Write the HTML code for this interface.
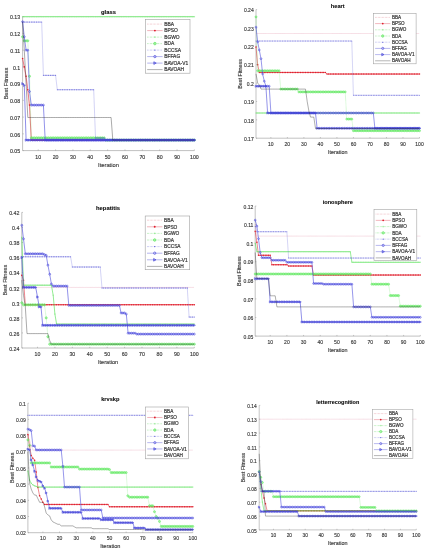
<!DOCTYPE html>
<html><head><meta charset="utf-8"><style>
html,body{margin:0;padding:0;background:#fff;}
svg{display:block;filter:blur(0.25px);}
text{font-family:"Liberation Sans", sans-serif;stroke:#383838;stroke-width:0.14px;}
</style></head><body>
<svg width="427" height="550" viewBox="0 0 427 550">
<defs>
<marker id="m0_BPSO" markerUnits="userSpaceOnUse" markerWidth="6" markerHeight="6" refX="0" refY="0" viewBox="-3 -3 6 6" overflow="visible"><circle cx="0.00" cy="0.00" r="0.80" fill="#e0202e"/></marker>
<marker id="m0_BGWO" markerUnits="userSpaceOnUse" markerWidth="6" markerHeight="6" refX="0" refY="0" viewBox="-3 -3 6 6" overflow="visible"><path d="M-0.75 0.00H0.75M0.00 -0.75V0.75" stroke="#5ae25a" stroke-opacity="0.6" stroke-width="0.40"/></marker>
<marker id="m0_BDA" markerUnits="userSpaceOnUse" markerWidth="6" markerHeight="6" refX="0" refY="0" viewBox="-3 -3 6 6" overflow="visible"><circle cx="0.00" cy="0.00" r="1.05" fill="#62e862" fill-opacity="0.45" stroke="#62e862" stroke-width="0.60"/></marker>
<marker id="m0_BCCSA" markerUnits="userSpaceOnUse" markerWidth="6" markerHeight="6" refX="0" refY="0" viewBox="-3 -3 6 6" overflow="visible"><circle cx="0.00" cy="0.00" r="0.50" fill="#3a3ad0" fill-opacity="0.85"/></marker>
<marker id="m0_BFFAG" markerUnits="userSpaceOnUse" markerWidth="6" markerHeight="6" refX="0" refY="0" viewBox="-3 -3 6 6" overflow="visible"><circle cx="0.00" cy="0.00" r="0.95" fill="none" stroke="#4a4adc" stroke-width="0.60"/></marker>
<marker id="m0_BAVOAV1" markerUnits="userSpaceOnUse" markerWidth="6" markerHeight="6" refX="0" refY="0" viewBox="-3 -3 6 6" overflow="visible"><path d="M-0.88 -1.10L1.10 0.00L-0.88 1.10Z" fill="#4242d8" fill-opacity="0.35" stroke="#4242d8" stroke-width="0.55"/></marker>
<marker id="m1_BPSO" markerUnits="userSpaceOnUse" markerWidth="6" markerHeight="6" refX="0" refY="0" viewBox="-3 -3 6 6" overflow="visible"><circle cx="0.00" cy="0.00" r="0.76" fill="#e0202e"/></marker>
<marker id="m1_BGWO" markerUnits="userSpaceOnUse" markerWidth="6" markerHeight="6" refX="0" refY="0" viewBox="-3 -3 6 6" overflow="visible"><path d="M-0.71 0.00H0.71M0.00 -0.71V0.71" stroke="#5ae25a" stroke-opacity="0.6" stroke-width="0.38"/></marker>
<marker id="m1_BDA" markerUnits="userSpaceOnUse" markerWidth="6" markerHeight="6" refX="0" refY="0" viewBox="-3 -3 6 6" overflow="visible"><circle cx="0.00" cy="0.00" r="1.00" fill="#62e862" fill-opacity="0.45" stroke="#62e862" stroke-width="0.57"/></marker>
<marker id="m1_BCCSA" markerUnits="userSpaceOnUse" markerWidth="6" markerHeight="6" refX="0" refY="0" viewBox="-3 -3 6 6" overflow="visible"><circle cx="0.00" cy="0.00" r="0.48" fill="#3a3ad0" fill-opacity="0.85"/></marker>
<marker id="m1_BFFAG" markerUnits="userSpaceOnUse" markerWidth="6" markerHeight="6" refX="0" refY="0" viewBox="-3 -3 6 6" overflow="visible"><circle cx="0.00" cy="0.00" r="0.91" fill="none" stroke="#4a4adc" stroke-width="0.57"/></marker>
<marker id="m1_BAVOAV1" markerUnits="userSpaceOnUse" markerWidth="6" markerHeight="6" refX="0" refY="0" viewBox="-3 -3 6 6" overflow="visible"><path d="M-0.84 -1.05L1.05 0.00L-0.84 1.05Z" fill="#4242d8" fill-opacity="0.35" stroke="#4242d8" stroke-width="0.52"/></marker>
<marker id="m2_BPSO" markerUnits="userSpaceOnUse" markerWidth="6" markerHeight="6" refX="0" refY="0" viewBox="-3 -3 6 6" overflow="visible"><circle cx="0.00" cy="0.00" r="0.80" fill="#e0202e"/></marker>
<marker id="m2_BGWO" markerUnits="userSpaceOnUse" markerWidth="6" markerHeight="6" refX="0" refY="0" viewBox="-3 -3 6 6" overflow="visible"><path d="M-0.75 0.00H0.75M0.00 -0.75V0.75" stroke="#5ae25a" stroke-opacity="0.6" stroke-width="0.40"/></marker>
<marker id="m2_BDA" markerUnits="userSpaceOnUse" markerWidth="6" markerHeight="6" refX="0" refY="0" viewBox="-3 -3 6 6" overflow="visible"><circle cx="0.00" cy="0.00" r="1.06" fill="#62e862" fill-opacity="0.45" stroke="#62e862" stroke-width="0.60"/></marker>
<marker id="m2_BCCSA" markerUnits="userSpaceOnUse" markerWidth="6" markerHeight="6" refX="0" refY="0" viewBox="-3 -3 6 6" overflow="visible"><circle cx="0.00" cy="0.00" r="0.50" fill="#3a3ad0" fill-opacity="0.85"/></marker>
<marker id="m2_BFFAG" markerUnits="userSpaceOnUse" markerWidth="6" markerHeight="6" refX="0" refY="0" viewBox="-3 -3 6 6" overflow="visible"><circle cx="0.00" cy="0.00" r="0.96" fill="none" stroke="#4a4adc" stroke-width="0.60"/></marker>
<marker id="m2_BAVOAV1" markerUnits="userSpaceOnUse" markerWidth="6" markerHeight="6" refX="0" refY="0" viewBox="-3 -3 6 6" overflow="visible"><path d="M-0.89 -1.11L1.11 0.00L-0.89 1.11Z" fill="#4242d8" fill-opacity="0.35" stroke="#4242d8" stroke-width="0.55"/></marker>
<marker id="m3_BPSO" markerUnits="userSpaceOnUse" markerWidth="6" markerHeight="6" refX="0" refY="0" viewBox="-3 -3 6 6" overflow="visible"><circle cx="0.00" cy="0.00" r="0.77" fill="#e0202e"/></marker>
<marker id="m3_BGWO" markerUnits="userSpaceOnUse" markerWidth="6" markerHeight="6" refX="0" refY="0" viewBox="-3 -3 6 6" overflow="visible"><path d="M-0.72 0.00H0.72M0.00 -0.72V0.72" stroke="#5ae25a" stroke-opacity="0.6" stroke-width="0.38"/></marker>
<marker id="m3_BDA" markerUnits="userSpaceOnUse" markerWidth="6" markerHeight="6" refX="0" refY="0" viewBox="-3 -3 6 6" overflow="visible"><circle cx="0.00" cy="0.00" r="1.01" fill="#62e862" fill-opacity="0.45" stroke="#62e862" stroke-width="0.58"/></marker>
<marker id="m3_BCCSA" markerUnits="userSpaceOnUse" markerWidth="6" markerHeight="6" refX="0" refY="0" viewBox="-3 -3 6 6" overflow="visible"><circle cx="0.00" cy="0.00" r="0.48" fill="#3a3ad0" fill-opacity="0.85"/></marker>
<marker id="m3_BFFAG" markerUnits="userSpaceOnUse" markerWidth="6" markerHeight="6" refX="0" refY="0" viewBox="-3 -3 6 6" overflow="visible"><circle cx="0.00" cy="0.00" r="0.91" fill="none" stroke="#4a4adc" stroke-width="0.58"/></marker>
<marker id="m3_BAVOAV1" markerUnits="userSpaceOnUse" markerWidth="6" markerHeight="6" refX="0" refY="0" viewBox="-3 -3 6 6" overflow="visible"><path d="M-0.85 -1.06L1.06 0.00L-0.85 1.06Z" fill="#4242d8" fill-opacity="0.35" stroke="#4242d8" stroke-width="0.53"/></marker>
<marker id="m4_BPSO" markerUnits="userSpaceOnUse" markerWidth="6" markerHeight="6" refX="0" refY="0" viewBox="-3 -3 6 6" overflow="visible"><circle cx="0.00" cy="0.00" r="0.77" fill="#e0202e"/></marker>
<marker id="m4_BGWO" markerUnits="userSpaceOnUse" markerWidth="6" markerHeight="6" refX="0" refY="0" viewBox="-3 -3 6 6" overflow="visible"><path d="M-0.72 0.00H0.72M0.00 -0.72V0.72" stroke="#5ae25a" stroke-opacity="0.6" stroke-width="0.38"/></marker>
<marker id="m4_BDA" markerUnits="userSpaceOnUse" markerWidth="6" markerHeight="6" refX="0" refY="0" viewBox="-3 -3 6 6" overflow="visible"><circle cx="0.00" cy="0.00" r="1.01" fill="#62e862" fill-opacity="0.45" stroke="#62e862" stroke-width="0.58"/></marker>
<marker id="m4_BCCSA" markerUnits="userSpaceOnUse" markerWidth="6" markerHeight="6" refX="0" refY="0" viewBox="-3 -3 6 6" overflow="visible"><circle cx="0.00" cy="0.00" r="0.48" fill="#3a3ad0" fill-opacity="0.85"/></marker>
<marker id="m4_BFFAG" markerUnits="userSpaceOnUse" markerWidth="6" markerHeight="6" refX="0" refY="0" viewBox="-3 -3 6 6" overflow="visible"><circle cx="0.00" cy="0.00" r="0.91" fill="none" stroke="#4a4adc" stroke-width="0.58"/></marker>
<marker id="m4_BAVOAV1" markerUnits="userSpaceOnUse" markerWidth="6" markerHeight="6" refX="0" refY="0" viewBox="-3 -3 6 6" overflow="visible"><path d="M-0.85 -1.06L1.06 0.00L-0.85 1.06Z" fill="#4242d8" fill-opacity="0.35" stroke="#4242d8" stroke-width="0.53"/></marker>
<marker id="m5_BPSO" markerUnits="userSpaceOnUse" markerWidth="6" markerHeight="6" refX="0" refY="0" viewBox="-3 -3 6 6" overflow="visible"><circle cx="0.00" cy="0.00" r="0.73" fill="#e0202e"/></marker>
<marker id="m5_BGWO" markerUnits="userSpaceOnUse" markerWidth="6" markerHeight="6" refX="0" refY="0" viewBox="-3 -3 6 6" overflow="visible"><path d="M-0.69 0.00H0.69M0.00 -0.69V0.69" stroke="#5ae25a" stroke-opacity="0.6" stroke-width="0.37"/></marker>
<marker id="m5_BDA" markerUnits="userSpaceOnUse" markerWidth="6" markerHeight="6" refX="0" refY="0" viewBox="-3 -3 6 6" overflow="visible"><circle cx="0.00" cy="0.00" r="0.96" fill="#62e862" fill-opacity="0.45" stroke="#62e862" stroke-width="0.55"/></marker>
<marker id="m5_BCCSA" markerUnits="userSpaceOnUse" markerWidth="6" markerHeight="6" refX="0" refY="0" viewBox="-3 -3 6 6" overflow="visible"><circle cx="0.00" cy="0.00" r="0.46" fill="#3a3ad0" fill-opacity="0.85"/></marker>
<marker id="m5_BFFAG" markerUnits="userSpaceOnUse" markerWidth="6" markerHeight="6" refX="0" refY="0" viewBox="-3 -3 6 6" overflow="visible"><circle cx="0.00" cy="0.00" r="0.87" fill="none" stroke="#4a4adc" stroke-width="0.55"/></marker>
<marker id="m5_BAVOAV1" markerUnits="userSpaceOnUse" markerWidth="6" markerHeight="6" refX="0" refY="0" viewBox="-3 -3 6 6" overflow="visible"><path d="M-0.81 -1.01L1.01 0.00L-0.81 1.01Z" fill="#4242d8" fill-opacity="0.35" stroke="#4242d8" stroke-width="0.50"/></marker>
</defs>
<rect width="427" height="550" fill="#fff"/>
<path d="M22.60 16.70V150.60H194.40" fill="none" stroke="#b0b0b0" stroke-width="0.80"/>
<path d="M38.22 150.60v-1.20M55.57 150.60v-1.20M72.93 150.60v-1.20M90.28 150.60v-1.20M107.63 150.60v-1.20M124.99 150.60v-1.20M142.34 150.60v-1.20M159.69 150.60v-1.20M177.05 150.60v-1.20M194.40 150.60v-1.20M22.60 150.60h1.20M22.60 133.86h1.20M22.60 117.12h1.20M22.60 100.39h1.20M22.60 83.65h1.20M22.60 66.91h1.20M22.60 50.18h1.20M22.60 33.44h1.20M22.60 16.70h1.20" stroke="#909090" stroke-width="0.50"/>
<text x="38.22" y="158.60" font-size="5.25" text-anchor="middle" fill="#383838">10</text>
<text x="55.57" y="158.60" font-size="5.25" text-anchor="middle" fill="#383838">20</text>
<text x="72.93" y="158.60" font-size="5.25" text-anchor="middle" fill="#383838">30</text>
<text x="90.28" y="158.60" font-size="5.25" text-anchor="middle" fill="#383838">40</text>
<text x="107.63" y="158.60" font-size="5.25" text-anchor="middle" fill="#383838">50</text>
<text x="124.99" y="158.60" font-size="5.25" text-anchor="middle" fill="#383838">60</text>
<text x="142.34" y="158.60" font-size="5.25" text-anchor="middle" fill="#383838">70</text>
<text x="159.69" y="158.60" font-size="5.25" text-anchor="middle" fill="#383838">80</text>
<text x="177.05" y="158.60" font-size="5.25" text-anchor="middle" fill="#383838">90</text>
<text x="194.40" y="158.60" font-size="5.25" text-anchor="middle" fill="#383838">100</text>
<text x="20.20" y="153.39" font-size="5.25" text-anchor="end" fill="#383838">0.05</text>
<text x="20.20" y="136.65" font-size="5.25" text-anchor="end" fill="#383838">0.06</text>
<text x="20.20" y="119.91" font-size="5.25" text-anchor="end" fill="#383838">0.07</text>
<text x="20.20" y="103.18" font-size="5.25" text-anchor="end" fill="#383838">0.08</text>
<text x="20.20" y="86.44" font-size="5.25" text-anchor="end" fill="#383838">0.09</text>
<text x="20.20" y="69.70" font-size="5.25" text-anchor="end" fill="#383838">0.1</text>
<text x="20.20" y="52.97" font-size="5.25" text-anchor="end" fill="#383838">0.11</text>
<text x="20.20" y="36.23" font-size="5.25" text-anchor="end" fill="#383838">0.12</text>
<text x="20.20" y="19.49" font-size="5.25" text-anchor="end" fill="#383838">0.13</text>
<text x="108.50" y="166.50" font-size="5.80" text-anchor="middle" fill="#383838">Iteration</text>
<text transform="translate(8.19 83.65) rotate(-90)" font-size="5.80" text-anchor="middle" fill="#383838">Best Fitness</text>
<text x="108.50" y="14.00" font-size="5.80" text-anchor="middle" font-weight="bold" fill="#000" style="stroke-width:0.12px">glass</text>
<path d="M22.6 60.2 24.3 70.3 26.1 80.3 27.8 92.0 29.5 108.8 31.3 140.1 33.0 140.1 34.7 140.1 36.5 140.1 38.2 140.1 40.0 140.1 41.7 140.1 43.4 140.1 45.2 140.1 46.9 140.1 48.6 140.1 50.4 140.1 52.1 140.1 53.8 140.1 55.6 140.1 57.3 140.1 59.0 140.1 60.8 140.1 62.5 140.1 64.2 140.1 66.0 140.1 67.7 140.1 69.5 140.1 71.2 140.1 72.9 140.1 74.7 140.1 76.4 140.1 78.1 140.1 79.9 140.1 81.6 140.1 83.3 140.1 85.1 140.1 86.8 140.1 88.5 140.1 90.3 140.1 92.0 140.1 93.7 140.1 95.5 140.1 97.2 140.1 99.0 140.1 100.7 140.1 102.4 140.1 104.2 140.1 105.9 140.1 107.6 140.1 109.4 140.1 111.1 140.1 112.8 140.1 114.6 140.1 116.3 140.1 118.0 140.1 119.8 140.1 121.5 140.1 123.3 140.1 125.0 140.1 126.7 140.1 128.5 140.1 130.2 140.1 131.9 140.1 133.7 140.1 135.4 140.1 137.1 140.1 138.9 140.1 140.6 140.1 142.3 140.1 144.1 140.1 145.8 140.1 147.5 140.1 149.3 140.1 151.0 140.1 152.8 140.1 154.5 140.1 156.2 140.1 158.0 140.1 159.7 140.1 161.4 140.1 163.2 140.1 164.9 140.1 166.6 140.1 168.4 140.1 170.1 140.1 171.8 140.1 173.6 140.1 175.3 140.1 177.0 140.1 178.8 140.1 180.5 140.1 182.3 140.1 184.0 140.1 185.7 140.1 187.5 140.1 189.2 140.1 190.9 140.1 192.7 140.1 194.4 140.1" fill="none" stroke="#e0849e" stroke-width="0.50" stroke-dasharray="0.5 0.45"/>
<path d="M22.6 58.5 24.3 66.9 26.1 76.3 27.8 89.7 29.5 105.1 31.3 140.1 33.0 140.1 34.7 140.1 36.5 140.1 38.2 140.1 40.0 140.1 41.7 140.1 43.4 140.1 45.2 140.1 46.9 140.1 48.6 140.1 50.4 140.1 52.1 140.1 53.8 140.1 55.6 140.1 57.3 140.1 59.0 140.1 60.8 140.1 62.5 140.1 64.2 140.1 66.0 140.1 67.7 140.1 69.5 140.1 71.2 140.1 72.9 140.1 74.7 140.1 76.4 140.1 78.1 140.1 79.9 140.1 81.6 140.1 83.3 140.1 85.1 140.1 86.8 140.1 88.5 140.1 90.3 140.1 92.0 140.1 93.7 140.1 95.5 140.1 97.2 140.1 99.0 140.1 100.7 140.1 102.4 140.1 104.2 140.1 105.9 140.1 107.6 140.1 109.4 140.1 111.1 140.1 112.8 140.1 114.6 140.1 116.3 140.1 118.0 140.1 119.8 140.1 121.5 140.1 123.3 140.1 125.0 140.1 126.7 140.1 128.5 140.1 130.2 140.1 131.9 140.1 133.7 140.1 135.4 140.1 137.1 140.1 138.9 140.1 140.6 140.1 142.3 140.1 144.1 140.1 145.8 140.1 147.5 140.1 149.3 140.1 151.0 140.1 152.8 140.1 154.5 140.1 156.2 140.1 158.0 140.1 159.7 140.1 161.4 140.1 163.2 140.1 164.9 140.1 166.6 140.1 168.4 140.1 170.1 140.1 171.8 140.1 173.6 140.1 175.3 140.1 177.0 140.1 178.8 140.1 180.5 140.1 182.3 140.1 184.0 140.1 185.7 140.1 187.5 140.1 189.2 140.1 190.9 140.1 192.7 140.1 194.4 140.1" fill="none" stroke="#e0202e" stroke-width="0.55" marker-start="url(#m0_BPSO)" marker-mid="url(#m0_BPSO)" marker-end="url(#m0_BPSO)"/>
<path d="M22.6 16.7 24.3 16.7 26.1 16.7 27.8 16.7 29.5 16.7 31.3 16.7 33.0 16.7 34.7 16.7 36.5 16.7 38.2 16.7 40.0 16.7 41.7 16.7 43.4 16.7 45.2 16.7 46.9 16.7 48.6 16.7 50.4 16.7 52.1 16.7 53.8 16.7 55.6 16.7 57.3 16.7 59.0 16.7 60.8 16.7 62.5 16.7 64.2 16.7 66.0 16.7 67.7 16.7 69.5 16.7 71.2 16.7 72.9 16.7 74.7 16.7 76.4 16.7 78.1 16.7 79.9 16.7 81.6 16.7 83.3 16.7 85.1 16.7 86.8 16.7 88.5 16.7 90.3 16.7 92.0 16.7 93.7 16.7 95.5 16.7 97.2 16.7 99.0 16.7 100.7 16.7 102.4 16.7 104.2 16.7 105.9 16.7 107.6 16.7 109.4 16.7 111.1 16.7 112.8 16.7 114.6 16.7 116.3 16.7 118.0 16.7 119.8 16.7 121.5 16.7 123.3 16.7 125.0 16.7 126.7 16.7 128.5 16.7 130.2 16.7 131.9 16.7 133.7 16.7 135.4 16.7 137.1 16.7 138.9 16.7 140.6 16.7 142.3 16.7 144.1 16.7 145.8 16.7 147.5 16.7 149.3 16.7 151.0 16.7 152.8 16.7 154.5 16.7 156.2 16.7 158.0 16.7 159.7 16.7 161.4 16.7 163.2 16.7 164.9 16.7 166.6 16.7 168.4 16.7 170.1 16.7 171.8 16.7 173.6 16.7 175.3 16.7 177.0 16.7 178.8 16.7 180.5 16.7 182.3 16.7 184.0 16.7 185.7 16.7 187.5 16.7 189.2 16.7 190.9 16.7 192.7 16.7 194.4 16.7" fill="none" stroke="#5ae25a" stroke-width="0.65" marker-start="url(#m0_BGWO)" marker-mid="url(#m0_BGWO)" marker-end="url(#m0_BGWO)"/>
<path d="M22.6 36.8 24.3 40.8 26.1 40.8 27.8 40.8 29.5 76.3 31.3 137.9 33.0 137.9 34.7 137.9 36.5 137.9 38.2 137.9 40.0 137.9 41.7 137.9 43.4 137.9 45.2 137.9 46.9 137.9 48.6 137.9 50.4 137.9 52.1 137.9 53.8 137.9 55.6 137.9 57.3 137.9 59.0 137.9 60.8 137.9 62.5 137.9 64.2 137.9 66.0 137.9 67.7 137.9 69.5 137.9 71.2 137.9 72.9 137.9 74.7 137.9 76.4 137.9 78.1 137.9 79.9 137.9 81.6 137.9 83.3 137.9 85.1 137.9 86.8 137.9 88.5 137.9 90.3 137.9 92.0 137.9 93.7 137.9 95.5 137.9 97.2 137.9 99.0 137.9 100.7 137.9 102.4 137.9 104.2 137.9 105.9 140.1 107.6 140.1 109.4 140.1 111.1 140.1 112.8 140.1 114.6 140.1 116.3 140.1 118.0 140.1 119.8 140.1 121.5 140.1 123.3 140.1 125.0 140.1 126.7 140.1 128.5 140.1 130.2 140.1 131.9 140.1 133.7 140.1 135.4 140.1 137.1 140.1 138.9 140.1 140.6 140.1 142.3 140.1 144.1 140.1 145.8 140.1 147.5 140.1 149.3 140.1 151.0 140.1 152.8 140.1 154.5 140.1 156.2 140.1 158.0 140.1 159.7 140.1 161.4 140.1 163.2 140.1 164.9 140.1 166.6 140.1 168.4 140.1 170.1 140.1 171.8 140.1 173.6 140.1 175.3 140.1 177.0 140.1 178.8 140.1 180.5 140.1 182.3 140.1 184.0 140.1 185.7 140.1 187.5 140.1 189.2 140.1 190.9 140.1 192.7 140.1 194.4 140.1" fill="none" stroke="#62e862" stroke-width="0.45" stroke-dasharray="0.55 0.55" marker-start="url(#m0_BDA)" marker-mid="url(#m0_BDA)" marker-end="url(#m0_BDA)"/>
<path d="M22.6 22.1 24.3 22.1 26.1 22.1 27.8 22.1 29.5 22.1 31.3 22.1 33.0 22.1 34.7 22.1 36.5 22.1 38.2 22.1 40.0 22.1 41.7 22.1 43.4 75.3 45.2 75.3 46.9 75.3 48.6 75.3 50.4 75.3 52.1 75.3 53.8 75.3 55.6 75.3 57.3 89.7 59.0 89.7 60.8 89.7 62.5 89.7 64.2 89.7 66.0 89.7 67.7 89.7 69.5 89.7 71.2 89.7 72.9 89.7 74.7 89.7 76.4 89.7 78.1 89.7 79.9 89.7 81.6 89.7 83.3 89.7 85.1 89.7 86.8 89.7 88.5 89.7 90.3 89.7 92.0 89.7 93.7 89.7 95.5 137.9 97.2 137.9 99.0 137.9 100.7 137.9 102.4 137.9 104.2 137.9 105.9 140.1 107.6 140.1 109.4 140.1 111.1 140.1 112.8 140.1 114.6 140.1 116.3 140.1 118.0 140.1 119.8 140.1 121.5 140.1 123.3 140.1 125.0 140.1 126.7 140.1 128.5 140.1 130.2 140.1 131.9 140.1 133.7 140.1 135.4 140.1 137.1 140.1 138.9 140.1 140.6 140.1 142.3 140.1 144.1 140.1 145.8 140.1 147.5 140.1 149.3 140.1 151.0 140.1 152.8 140.1 154.5 140.1 156.2 140.1 158.0 140.1 159.7 140.1 161.4 140.1 163.2 140.1 164.9 140.1 166.6 140.1 168.4 140.1 170.1 140.1 171.8 140.1 173.6 140.1 175.3 140.1 177.0 140.1 178.8 140.1 180.5 140.1 182.3 140.1 184.0 140.1 185.7 140.1 187.5 140.1 189.2 140.1 190.9 140.1 192.7 140.1 194.4 140.1" fill="none" stroke="#3a3ad0" stroke-width="0.50" stroke-dasharray="0.45 0.55" marker-start="url(#m0_BCCSA)" marker-mid="url(#m0_BCCSA)" marker-end="url(#m0_BCCSA)"/>
<path d="M22.6 21.7 24.3 36.8 26.1 50.2 27.8 50.2 29.5 91.5 31.3 105.1 33.0 105.1 34.7 105.1 36.5 105.1 38.2 105.1 40.0 105.1 41.7 105.1 43.4 105.1 45.2 140.1 46.9 140.1 48.6 140.1 50.4 140.1 52.1 140.1 53.8 140.1 55.6 140.1 57.3 140.1 59.0 140.1 60.8 140.1 62.5 140.1 64.2 140.1 66.0 140.1 67.7 140.1 69.5 140.1 71.2 140.1 72.9 140.1 74.7 140.1 76.4 140.1 78.1 140.1 79.9 140.1 81.6 140.1 83.3 140.1 85.1 140.1 86.8 140.1 88.5 140.1 90.3 140.1 92.0 140.1 93.7 140.1 95.5 140.1 97.2 140.1 99.0 140.1 100.7 140.1 102.4 140.1 104.2 140.1 105.9 140.1 107.6 140.1 109.4 140.1 111.1 140.1 112.8 140.1 114.6 140.1 116.3 140.1 118.0 140.1 119.8 140.1 121.5 140.1 123.3 140.1 125.0 140.1 126.7 140.1 128.5 140.1 130.2 140.1 131.9 140.1 133.7 140.1 135.4 140.1 137.1 140.1 138.9 140.1 140.6 140.1 142.3 140.1 144.1 140.1 145.8 140.1 147.5 140.1 149.3 140.1 151.0 140.1 152.8 140.1 154.5 140.1 156.2 140.1 158.0 140.1 159.7 140.1 161.4 140.1 163.2 140.1 164.9 140.1 166.6 140.1 168.4 140.1 170.1 140.1 171.8 140.1 173.6 140.1 175.3 140.1 177.0 140.1 178.8 140.1 180.5 140.1 182.3 140.1 184.0 140.1 185.7 140.1 187.5 140.1 189.2 140.1 190.9 140.1 192.7 140.1 194.4 140.1" fill="none" stroke="#4a4adc" stroke-width="0.60" marker-start="url(#m0_BFFAG)" marker-mid="url(#m0_BFFAG)" marker-end="url(#m0_BFFAG)"/>
<path d="M22.6 83.7 24.3 85.3 26.1 140.1 27.8 140.1 29.5 140.1 31.3 140.1 33.0 140.1 34.7 140.1 36.5 140.1 38.2 140.1 40.0 140.1 41.7 140.1 43.4 140.1 45.2 140.1 46.9 140.1 48.6 140.1 50.4 140.1 52.1 140.1 53.8 140.1 55.6 140.1 57.3 140.1 59.0 140.1 60.8 140.1 62.5 140.1 64.2 140.1 66.0 140.1 67.7 140.1 69.5 140.1 71.2 140.1 72.9 140.1 74.7 140.1 76.4 140.1 78.1 140.1 79.9 140.1 81.6 140.1 83.3 140.1 85.1 140.1 86.8 140.1 88.5 140.1 90.3 140.1 92.0 140.1 93.7 140.1 95.5 140.1 97.2 140.1 99.0 140.1 100.7 140.1 102.4 140.1 104.2 140.1 105.9 140.1 107.6 140.1 109.4 140.1 111.1 140.1 112.8 140.1 114.6 140.1 116.3 140.1 118.0 140.1 119.8 140.1 121.5 140.1 123.3 140.1 125.0 140.1 126.7 140.1 128.5 140.1 130.2 140.1 131.9 140.1 133.7 140.1 135.4 140.1 137.1 140.1 138.9 140.1 140.6 140.1 142.3 140.1 144.1 140.1 145.8 140.1 147.5 140.1 149.3 140.1 151.0 140.1 152.8 140.1 154.5 140.1 156.2 140.1 158.0 140.1 159.7 140.1 161.4 140.1 163.2 140.1 164.9 140.1 166.6 140.1 168.4 140.1 170.1 140.1 171.8 140.1 173.6 140.1 175.3 140.1 177.0 140.1 178.8 140.1 180.5 140.1 182.3 140.1 184.0 140.1 185.7 140.1 187.5 140.1 189.2 140.1 190.9 140.1 192.7 140.1 194.4 140.1" fill="none" stroke="#4242d8" stroke-width="0.60" marker-start="url(#m0_BAVOAV1)" marker-mid="url(#m0_BAVOAV1)" marker-end="url(#m0_BAVOAV1)"/>
<path d="M22.6 21.7 24.3 50.2 26.1 83.7 27.8 117.5 29.5 117.5 31.3 117.5 33.0 117.5 34.7 117.5 36.5 117.5 38.2 117.5 40.0 117.5 41.7 117.5 43.4 117.5 45.2 117.5 46.9 117.5 48.6 117.5 50.4 117.5 52.1 117.5 53.8 117.5 55.6 117.5 57.3 117.5 59.0 117.5 60.8 117.5 62.5 117.5 64.2 117.5 66.0 117.5 67.7 117.5 69.5 117.5 71.2 117.5 72.9 117.5 74.7 117.5 76.4 117.5 78.1 117.5 79.9 117.5 81.6 117.5 83.3 117.5 85.1 117.5 86.8 117.5 88.5 117.5 90.3 117.5 92.0 117.5 93.7 117.5 95.5 117.5 97.2 117.5 99.0 117.5 100.7 117.5 102.4 117.5 104.2 117.5 105.9 117.5 107.6 117.5 109.4 117.5 111.1 117.5 112.8 140.1 114.6 140.1 116.3 140.1 118.0 140.1 119.8 140.1 121.5 140.1 123.3 140.1 125.0 140.1 126.7 140.1 128.5 140.1 130.2 140.1 131.9 140.1 133.7 140.1 135.4 140.1 137.1 140.1 138.9 140.1 140.6 140.1 142.3 140.1 144.1 140.1 145.8 140.1 147.5 140.1 149.3 140.1 151.0 140.1 152.8 140.1 154.5 140.1 156.2 140.1 158.0 140.1 159.7 140.1 161.4 140.1 163.2 140.1 164.9 140.1 166.6 140.1 168.4 140.1 170.1 140.1 171.8 140.1 173.6 140.1 175.3 140.1 177.0 140.1 178.8 140.1 180.5 140.1 182.3 140.1 184.0 140.1 185.7 140.1 187.5 140.1 189.2 140.1 190.9 140.1 192.7 140.1 194.4 140.1" fill="none" stroke="#2a2a2a" stroke-width="0.40"/>
<rect x="145.40" y="19.30" width="44.60" height="53.90" fill="#fff" stroke="#a0a0a0" stroke-width="0.60"/>
<path d="M147.20 24.10H162.60" stroke="#e07a88" stroke-width="0.55" stroke-dasharray="0.6 0.8"/>
<text x="164.20" y="25.86" font-size="4.89" fill="#383838" style="stroke-width:0.2px">BBA</text>
<path d="M147.20 30.60H162.60" stroke="#e67482" stroke-width="0.55"/>
<circle cx="154.90" cy="30.60" r="0.96" fill="#e0202e"/>
<text x="164.20" y="32.36" font-size="4.89" fill="#383838" style="stroke-width:0.2px">BPSO</text>
<path d="M147.20 37.10H162.60" stroke="#5ad85a" stroke-width="0.55" stroke-dasharray="0.6 0.8"/>
<path d="M154.00 37.10H155.80M154.90 36.20V38.00" stroke="#5ae25a" stroke-opacity="0.6" stroke-width="0.48"/>
<text x="164.20" y="38.86" font-size="4.89" fill="#383838" style="stroke-width:0.2px">BGWO</text>
<path d="M147.20 43.60H162.60" stroke="#5ad85a" stroke-width="0.55" stroke-dasharray="0.6 0.8"/>
<circle cx="154.90" cy="43.60" r="1.26" fill="#62e862" fill-opacity="0.45" stroke="#62e862" stroke-width="0.72"/>
<text x="164.20" y="45.36" font-size="4.89" fill="#383838" style="stroke-width:0.2px">BDA</text>
<path d="M147.20 50.10H162.60" stroke="#7070dc" stroke-width="0.55" stroke-dasharray="0.6 0.8"/>
<circle cx="154.90" cy="50.10" r="0.60" fill="#3a3ad0" fill-opacity="0.85"/>
<text x="164.20" y="51.86" font-size="4.89" fill="#383838" style="stroke-width:0.2px">BCCSA</text>
<path d="M147.20 56.60H162.60" stroke="#7878e0" stroke-width="0.55"/>
<circle cx="154.90" cy="56.60" r="1.14" fill="none" stroke="#4a4adc" stroke-width="0.72"/>
<text x="164.20" y="58.36" font-size="4.89" fill="#383838" style="stroke-width:0.2px">BFFAG</text>
<path d="M147.20 63.10H162.60" stroke="#7878e0" stroke-width="0.55"/>
<path d="M153.84 61.78L156.22 63.10L153.84 64.42Z" fill="#4242d8" fill-opacity="0.35" stroke="#4242d8" stroke-width="0.66"/>
<text x="164.20" y="64.86" font-size="4.89" fill="#383838" style="stroke-width:0.2px">BAVOA-V1</text>
<path d="M147.20 69.60H162.60" stroke="#707070" stroke-width="0.55"/>
<text x="164.20" y="71.36" font-size="4.89" fill="#383838" style="stroke-width:0.2px">BAVOAH</text>
<path d="M256.00 9.60V138.20H419.50" fill="none" stroke="#b0b0b0" stroke-width="0.76"/>
<path d="M270.86 138.20v-1.14M287.38 138.20v-1.14M303.89 138.20v-1.14M320.41 138.20v-1.14M336.92 138.20v-1.14M353.44 138.20v-1.14M369.95 138.20v-1.14M386.47 138.20v-1.14M402.98 138.20v-1.14M419.50 138.20v-1.14M256.00 138.20h1.14M256.00 119.83h1.14M256.00 101.46h1.14M256.00 83.09h1.14M256.00 64.71h1.14M256.00 46.34h1.14M256.00 27.97h1.14M256.00 9.60h1.14" stroke="#909090" stroke-width="0.48"/>
<text x="270.86" y="146.20" font-size="5.04" text-anchor="middle" fill="#383838">10</text>
<text x="287.38" y="146.20" font-size="5.04" text-anchor="middle" fill="#383838">20</text>
<text x="303.89" y="146.20" font-size="5.04" text-anchor="middle" fill="#383838">30</text>
<text x="320.41" y="146.20" font-size="5.04" text-anchor="middle" fill="#383838">40</text>
<text x="336.92" y="146.20" font-size="5.04" text-anchor="middle" fill="#383838">50</text>
<text x="353.44" y="146.20" font-size="5.04" text-anchor="middle" fill="#383838">60</text>
<text x="369.95" y="146.20" font-size="5.04" text-anchor="middle" fill="#383838">70</text>
<text x="386.47" y="146.20" font-size="5.04" text-anchor="middle" fill="#383838">80</text>
<text x="402.98" y="146.20" font-size="5.04" text-anchor="middle" fill="#383838">90</text>
<text x="419.50" y="146.20" font-size="5.04" text-anchor="middle" fill="#383838">100</text>
<text x="253.70" y="140.91" font-size="5.04" text-anchor="end" fill="#383838">0.17</text>
<text x="253.70" y="122.54" font-size="5.04" text-anchor="end" fill="#383838">0.18</text>
<text x="253.70" y="104.17" font-size="5.04" text-anchor="end" fill="#383838">0.19</text>
<text x="253.70" y="85.80" font-size="5.04" text-anchor="end" fill="#383838">0.2</text>
<text x="253.70" y="67.43" font-size="5.04" text-anchor="end" fill="#383838">0.21</text>
<text x="253.70" y="49.06" font-size="5.04" text-anchor="end" fill="#383838">0.22</text>
<text x="253.70" y="30.69" font-size="5.04" text-anchor="end" fill="#383838">0.23</text>
<text x="253.70" y="12.31" font-size="5.04" text-anchor="end" fill="#383838">0.24</text>
<text x="337.75" y="153.70" font-size="5.40" text-anchor="middle" fill="#383838">Iteration</text>
<text transform="translate(241.84 73.90) rotate(-90)" font-size="5.40" text-anchor="middle" fill="#383838">Best Fitness</text>
<text x="337.75" y="7.70" font-size="5.65" text-anchor="middle" font-weight="bold" fill="#000" style="stroke-width:0.12px">heart</text>
<path d="M256.0 33.5 257.7 33.5 259.3 33.5 261.0 33.5 262.6 33.5 264.3 33.5 265.9 33.5 267.6 33.5 269.2 33.5 270.9 33.5 272.5 33.5 274.2 33.5 275.8 33.5 277.5 33.5 279.1 33.5 280.8 33.5 282.4 33.5 284.1 33.5 285.7 33.5 287.4 33.5 289.0 33.5 290.7 33.5 292.3 33.5 294.0 33.5 295.6 33.5 297.3 33.5 298.9 33.5 300.6 33.5 302.2 33.5 303.9 33.5 305.5 33.5 307.2 33.5 308.8 33.5 310.5 33.5 312.2 33.5 313.8 33.5 315.5 33.5 317.1 33.5 318.8 33.5 320.4 33.5 322.1 33.5 323.7 33.5 325.4 33.5 327.0 33.5 328.7 33.5 330.3 33.5 332.0 33.5 333.6 33.5 335.3 33.5 336.9 33.5 338.6 33.5 340.2 33.5 341.9 33.5 343.5 33.5 345.2 33.5 346.8 33.5 348.5 33.5 350.1 33.5 351.8 33.5 353.4 33.5 355.1 33.5 356.7 33.5 358.4 33.5 360.0 33.5 361.7 33.5 363.3 33.5 365.0 33.5 366.7 33.5 368.3 33.5 370.0 33.5 371.6 33.5 373.3 33.5 374.9 33.5 376.6 33.5 378.2 33.5 379.9 33.5 381.5 33.5 383.2 33.5 384.8 33.5 386.5 33.5 388.1 33.5 389.8 33.5 391.4 33.5 393.1 33.5 394.7 33.5 396.4 33.5 398.0 33.5 399.7 33.5 401.3 33.5 403.0 33.5 404.6 33.5 406.3 33.5 407.9 33.5 409.6 33.5 411.2 33.5 412.9 33.5 414.5 33.5 416.2 33.5 417.8 33.5 419.5 33.5" fill="none" stroke="#e0849e" stroke-width="0.48" stroke-dasharray="0.5 0.45"/>
<path d="M256.0 47.1 257.7 64.7 259.3 72.4 261.0 72.4 262.6 72.4 264.3 72.4 265.9 72.4 267.6 72.4 269.2 72.4 270.9 72.4 272.5 72.4 274.2 72.4 275.8 72.4 277.5 72.4 279.1 72.4 280.8 72.4 282.4 72.4 284.1 72.4 285.7 72.4 287.4 72.4 289.0 72.4 290.7 72.4 292.3 72.4 294.0 72.4 295.6 72.4 297.3 72.4 298.9 72.4 300.6 72.4 302.2 72.4 303.9 72.4 305.5 72.4 307.2 72.4 308.8 72.4 310.5 72.4 312.2 72.4 313.8 72.4 315.5 72.4 317.1 72.4 318.8 72.4 320.4 72.4 322.1 72.4 323.7 72.4 325.4 72.4 327.0 74.1 328.7 74.1 330.3 74.1 332.0 74.1 333.6 74.1 335.3 74.1 336.9 74.1 338.6 74.1 340.2 74.1 341.9 74.1 343.5 74.1 345.2 74.1 346.8 74.1 348.5 74.1 350.1 74.1 351.8 74.1 353.4 74.1 355.1 74.1 356.7 74.1 358.4 74.1 360.0 74.1 361.7 74.1 363.3 74.1 365.0 74.1 366.7 74.1 368.3 74.1 370.0 74.1 371.6 74.1 373.3 74.1 374.9 74.1 376.6 74.1 378.2 74.1 379.9 74.1 381.5 74.1 383.2 74.1 384.8 74.1 386.5 74.1 388.1 74.1 389.8 74.1 391.4 74.1 393.1 74.1 394.7 74.1 396.4 74.1 398.0 74.1 399.7 74.1 401.3 74.1 403.0 74.1 404.6 74.1 406.3 74.1 407.9 74.1 409.6 74.1 411.2 74.1 412.9 74.1 414.5 74.1 416.2 74.1 417.8 74.1 419.5 74.1" fill="none" stroke="#e0202e" stroke-width="0.52" marker-start="url(#m1_BPSO)" marker-mid="url(#m1_BPSO)" marker-end="url(#m1_BPSO)"/>
<path d="M256.0 113.0 257.7 113.0 259.3 113.0 261.0 113.0 262.6 113.0 264.3 113.0 265.9 113.0 267.6 113.0 269.2 113.0 270.9 113.0 272.5 113.0 274.2 113.0 275.8 113.0 277.5 113.0 279.1 113.0 280.8 113.0 282.4 113.0 284.1 113.0 285.7 113.0 287.4 113.0 289.0 113.0 290.7 113.0 292.3 113.0 294.0 113.0 295.6 113.0 297.3 113.0 298.9 113.0 300.6 113.0 302.2 113.0 303.9 113.0 305.5 113.0 307.2 113.0 308.8 113.0 310.5 113.0 312.2 113.0 313.8 113.0 315.5 113.0 317.1 113.0 318.8 113.0 320.4 113.0 322.1 113.0 323.7 113.0 325.4 113.0 327.0 113.0 328.7 113.0 330.3 113.0 332.0 113.0 333.6 113.0 335.3 113.0 336.9 113.0 338.6 113.0 340.2 113.0 341.9 113.0 343.5 113.0 345.2 113.0 346.8 113.0 348.5 113.0 350.1 113.0 351.8 113.0 353.4 113.0 355.1 113.0 356.7 113.0 358.4 113.0 360.0 113.0 361.7 113.0 363.3 113.0 365.0 113.0 366.7 113.0 368.3 113.0 370.0 113.0 371.6 113.0 373.3 113.0 374.9 113.0 376.6 113.0 378.2 113.0 379.9 113.0 381.5 113.0 383.2 113.0 384.8 113.0 386.5 113.0 388.1 113.0 389.8 113.0 391.4 113.0 393.1 113.0 394.7 113.0 396.4 113.0 398.0 113.0 399.7 113.0 401.3 113.0 403.0 113.0 404.6 113.0 406.3 113.0 407.9 113.0 409.6 113.0 411.2 113.0 412.9 113.0 414.5 113.0 416.2 113.0 417.8 113.0 419.5 113.0" fill="none" stroke="#5ae25a" stroke-width="0.62" marker-start="url(#m1_BGWO)" marker-mid="url(#m1_BGWO)" marker-end="url(#m1_BGWO)"/>
<path d="M256.0 16.9 257.7 70.8 259.3 70.8 261.0 70.8 262.6 70.8 264.3 70.8 265.9 70.8 267.6 70.8 269.2 70.8 270.9 70.8 272.5 70.8 274.2 70.8 275.8 70.8 277.5 70.8 279.1 70.8 280.8 89.1 282.4 89.1 284.1 89.1 285.7 89.1 287.4 89.1 289.0 89.1 290.7 89.1 292.3 89.1 294.0 89.1 295.6 89.1 297.3 89.1 298.9 91.9 300.6 91.9 302.2 91.9 303.9 91.9 305.5 91.9 307.2 91.9 308.8 91.9 310.5 91.9 312.2 91.9 313.8 91.9 315.5 91.9 317.1 91.9 318.8 91.9 320.4 91.9 322.1 91.9 323.7 91.9 325.4 91.9 327.0 91.9 328.7 91.9 330.3 91.9 332.0 91.9 333.6 91.9 335.3 91.9 336.9 91.9 338.6 91.9 340.2 91.9 341.9 91.9 343.5 91.9 345.2 91.9 346.8 119.1 348.5 119.1 350.1 119.1 351.8 119.1 353.4 130.7 355.1 130.7 356.7 130.7 358.4 130.7 360.0 130.7 361.7 130.7 363.3 130.7 365.0 130.7 366.7 130.7 368.3 130.7 370.0 130.7 371.6 130.7 373.3 130.7 374.9 130.7 376.6 130.7 378.2 130.7 379.9 130.7 381.5 130.7 383.2 130.7 384.8 130.7 386.5 130.7 388.1 130.7 389.8 130.7 391.4 130.7 393.1 130.7 394.7 130.7 396.4 130.7 398.0 130.7 399.7 130.7 401.3 130.7 403.0 130.7 404.6 130.7 406.3 130.7 407.9 130.7 409.6 130.7 411.2 130.7 412.9 130.7 414.5 130.7 416.2 130.7 417.8 130.7 419.5 130.7" fill="none" stroke="#62e862" stroke-width="0.43" stroke-dasharray="0.55 0.55" marker-start="url(#m1_BDA)" marker-mid="url(#m1_BDA)" marker-end="url(#m1_BDA)"/>
<path d="M256.0 41.0 257.7 41.0 259.3 41.0 261.0 41.0 262.6 41.0 264.3 41.0 265.9 41.0 267.6 41.0 269.2 41.0 270.9 41.0 272.5 41.0 274.2 41.0 275.8 41.0 277.5 41.0 279.1 41.0 280.8 41.0 282.4 41.0 284.1 41.0 285.7 41.0 287.4 41.0 289.0 41.0 290.7 41.0 292.3 41.0 294.0 41.0 295.6 41.0 297.3 41.0 298.9 41.0 300.6 41.0 302.2 41.0 303.9 41.0 305.5 41.0 307.2 41.0 308.8 41.0 310.5 41.0 312.2 41.0 313.8 41.0 315.5 41.0 317.1 41.0 318.8 41.0 320.4 41.0 322.1 41.0 323.7 41.0 325.4 41.0 327.0 41.0 328.7 41.0 330.3 41.0 332.0 41.0 333.6 41.0 335.3 41.0 336.9 41.0 338.6 41.0 340.2 41.0 341.9 41.0 343.5 41.0 345.2 41.0 346.8 41.0 348.5 41.0 350.1 41.0 351.8 41.0 353.4 95.2 355.1 95.2 356.7 95.2 358.4 95.2 360.0 95.2 361.7 95.2 363.3 95.2 365.0 95.2 366.7 95.2 368.3 95.2 370.0 95.2 371.6 95.2 373.3 95.2 374.9 95.2 376.6 95.2 378.2 95.2 379.9 95.2 381.5 95.2 383.2 95.2 384.8 95.2 386.5 95.2 388.1 95.2 389.8 95.2 391.4 95.2 393.1 95.2 394.7 95.2 396.4 95.2 398.0 95.2 399.7 95.2 401.3 95.2 403.0 95.2 404.6 95.2 406.3 95.2 407.9 95.2 409.6 95.2 411.2 95.2 412.9 95.2 414.5 95.2 416.2 95.2 417.8 95.2 419.5 95.2" fill="none" stroke="#3a3ad0" stroke-width="0.48" stroke-dasharray="0.45 0.55" marker-start="url(#m1_BCCSA)" marker-mid="url(#m1_BCCSA)" marker-end="url(#m1_BCCSA)"/>
<path d="M256.0 27.1 257.7 41.9 259.3 50.0 261.0 58.7 262.6 73.9 264.3 81.2 265.9 86.2 267.6 86.2 269.2 86.2 270.9 113.0 272.5 113.0 274.2 113.0 275.8 113.0 277.5 113.0 279.1 113.0 280.8 113.0 282.4 113.0 284.1 113.0 285.7 113.0 287.4 113.0 289.0 113.0 290.7 113.0 292.3 113.0 294.0 113.0 295.6 113.0 297.3 113.0 298.9 113.0 300.6 113.0 302.2 113.0 303.9 113.0 305.5 113.0 307.2 113.0 308.8 113.0 310.5 113.0 312.2 113.0 313.8 113.0 315.5 113.0 317.1 113.0 318.8 113.0 320.4 113.0 322.1 113.0 323.7 113.0 325.4 113.0 327.0 113.0 328.7 113.0 330.3 113.0 332.0 113.0 333.6 113.0 335.3 113.0 336.9 113.0 338.6 113.0 340.2 113.0 341.9 113.0 343.5 113.0 345.2 113.0 346.8 113.0 348.5 113.0 350.1 113.0 351.8 113.0 353.4 113.0 355.1 113.0 356.7 113.0 358.4 113.0 360.0 113.0 361.7 113.0 363.3 113.0 365.0 113.0 366.7 113.0 368.3 113.0 370.0 113.0 371.6 113.0 373.3 113.0 374.9 128.3 376.6 128.3 378.2 128.3 379.9 128.3 381.5 128.3 383.2 128.3 384.8 128.3 386.5 128.3 388.1 128.3 389.8 128.3 391.4 128.3 393.1 128.3 394.7 128.3 396.4 128.3 398.0 128.3 399.7 128.3 401.3 128.3 403.0 128.3 404.6 128.3 406.3 128.3 407.9 128.3 409.6 128.3 411.2 128.3 412.9 128.3 414.5 128.3 416.2 128.3 417.8 128.3 419.5 128.3" fill="none" stroke="#4a4adc" stroke-width="0.57" marker-start="url(#m1_BFFAG)" marker-mid="url(#m1_BFFAG)" marker-end="url(#m1_BFFAG)"/>
<path d="M256.0 86.2 257.7 86.2 259.3 86.2 261.0 86.2 262.6 86.2 264.3 86.2 265.9 86.2 267.6 113.0 269.2 113.0 270.9 113.0 272.5 113.0 274.2 113.0 275.8 113.0 277.5 113.0 279.1 113.0 280.8 113.0 282.4 113.0 284.1 113.0 285.7 113.0 287.4 113.0 289.0 113.0 290.7 113.0 292.3 113.0 294.0 113.0 295.6 113.0 297.3 113.0 298.9 113.0 300.6 113.0 302.2 113.0 303.9 113.0 305.5 113.0 307.2 113.0 308.8 113.0 310.5 113.0 312.2 113.0 313.8 113.0 315.5 113.0 317.1 128.3 318.8 128.3 320.4 128.3 322.1 128.3 323.7 128.3 325.4 128.3 327.0 128.3 328.7 128.3 330.3 128.3 332.0 128.3 333.6 128.3 335.3 128.3 336.9 128.3 338.6 128.3 340.2 128.3 341.9 128.3 343.5 128.3 345.2 128.3 346.8 128.3 348.5 128.3 350.1 128.3 351.8 128.3 353.4 128.3 355.1 128.3 356.7 128.3 358.4 128.3 360.0 128.3 361.7 128.3 363.3 128.3 365.0 128.3 366.7 128.3 368.3 128.3 370.0 128.3 371.6 128.3 373.3 128.3 374.9 128.3 376.6 128.3 378.2 128.3 379.9 128.3 381.5 128.3 383.2 128.3 384.8 128.3 386.5 128.3 388.1 128.3 389.8 128.3 391.4 128.3 393.1 128.3 394.7 128.3 396.4 128.3 398.0 128.3 399.7 128.3 401.3 128.3 403.0 128.3 404.6 128.3 406.3 128.3 407.9 128.3 409.6 128.3 411.2 128.3 412.9 128.3 414.5 128.3 416.2 128.3 417.8 128.3 419.5 128.3" fill="none" stroke="#4242d8" stroke-width="0.57" marker-start="url(#m1_BAVOAV1)" marker-mid="url(#m1_BAVOAV1)" marker-end="url(#m1_BAVOAV1)"/>
<path d="M256.0 73.9 257.7 83.1 259.3 84.9 261.0 89.1 262.6 89.1 264.3 89.1 265.9 89.1 267.6 89.1 269.2 89.1 270.9 89.1 272.5 89.1 274.2 89.1 275.8 89.1 277.5 89.1 279.1 89.1 280.8 89.1 282.4 89.1 284.1 89.1 285.7 89.1 287.4 89.1 289.0 89.1 290.7 89.1 292.3 89.1 294.0 89.1 295.6 89.1 297.3 89.1 298.9 89.1 300.6 89.1 302.2 89.1 303.9 89.1 305.5 89.1 307.2 101.5 308.8 110.6 310.5 117.1 312.2 117.1 313.8 117.1 315.5 128.5 317.1 128.5 318.8 128.5 320.4 128.5 322.1 128.5 323.7 128.5 325.4 128.5 327.0 128.5 328.7 128.5 330.3 128.5 332.0 128.5 333.6 128.5 335.3 128.5 336.9 128.5 338.6 128.5 340.2 128.5 341.9 128.5 343.5 128.5 345.2 128.5 346.8 128.5 348.5 128.5 350.1 128.5 351.8 128.5 353.4 128.5 355.1 128.5 356.7 128.5 358.4 128.5 360.0 128.5 361.7 128.5 363.3 128.5 365.0 128.5 366.7 128.5 368.3 128.5 370.0 128.5 371.6 128.5 373.3 128.5 374.9 128.5 376.6 128.5 378.2 128.5 379.9 128.5 381.5 128.5 383.2 128.5 384.8 128.5 386.5 128.5 388.1 128.5 389.8 128.5 391.4 128.5 393.1 128.5 394.7 128.5 396.4 128.5 398.0 128.5 399.7 128.5 401.3 128.5 403.0 128.5 404.6 128.5 406.3 128.5 407.9 128.5 409.6 128.5 411.2 128.5 412.9 128.5 414.5 128.5 416.2 128.5 417.8 128.5 419.5 128.5" fill="none" stroke="#2a2a2a" stroke-width="0.38"/>
<rect x="373.40" y="13.30" width="42.70" height="50.50" fill="#fff" stroke="#a0a0a0" stroke-width="0.57"/>
<path d="M375.12 17.40H390.38" stroke="#e07a88" stroke-width="0.52" stroke-dasharray="0.6 0.8"/>
<text x="391.90" y="19.05" font-size="4.58" fill="#383838" style="stroke-width:0.2px">BBA</text>
<path d="M375.12 23.60H390.38" stroke="#e67482" stroke-width="0.52"/>
<circle cx="382.75" cy="23.60" r="0.91" fill="#e0202e"/>
<text x="391.90" y="25.25" font-size="4.58" fill="#383838" style="stroke-width:0.2px">BPSO</text>
<path d="M375.12 29.80H390.38" stroke="#5ad85a" stroke-width="0.52" stroke-dasharray="0.6 0.8"/>
<path d="M381.89 29.80H383.60M382.75 28.94V30.66" stroke="#5ae25a" stroke-opacity="0.6" stroke-width="0.46"/>
<text x="391.90" y="31.45" font-size="4.58" fill="#383838" style="stroke-width:0.2px">BGWO</text>
<path d="M375.12 36.00H390.38" stroke="#5ad85a" stroke-width="0.52" stroke-dasharray="0.6 0.8"/>
<circle cx="382.75" cy="36.00" r="1.20" fill="#62e862" fill-opacity="0.45" stroke="#62e862" stroke-width="0.69"/>
<text x="391.90" y="37.65" font-size="4.58" fill="#383838" style="stroke-width:0.2px">BDA</text>
<path d="M375.12 42.20H390.38" stroke="#7070dc" stroke-width="0.52" stroke-dasharray="0.6 0.8"/>
<circle cx="382.75" cy="42.20" r="0.57" fill="#3a3ad0" fill-opacity="0.85"/>
<text x="391.90" y="43.85" font-size="4.58" fill="#383838" style="stroke-width:0.2px">BCCSA</text>
<path d="M375.12 48.40H390.38" stroke="#7878e0" stroke-width="0.52"/>
<circle cx="382.75" cy="48.40" r="1.09" fill="none" stroke="#4a4adc" stroke-width="0.69"/>
<text x="391.90" y="50.05" font-size="4.58" fill="#383838" style="stroke-width:0.2px">BFFAG</text>
<path d="M375.12 54.60H390.38" stroke="#7878e0" stroke-width="0.52"/>
<path d="M381.74 53.34L384.00 54.60L381.74 55.86Z" fill="#4242d8" fill-opacity="0.35" stroke="#4242d8" stroke-width="0.63"/>
<text x="391.90" y="56.25" font-size="4.58" fill="#383838" style="stroke-width:0.2px">BAVOA-V1</text>
<path d="M375.12 60.80H390.38" stroke="#707070" stroke-width="0.52"/>
<text x="391.90" y="62.45" font-size="4.58" fill="#383838" style="stroke-width:0.2px">BAVOAH</text>
<path d="M21.80 212.40V348.00H194.30" fill="none" stroke="#b0b0b0" stroke-width="0.80"/>
<path d="M37.48 348.00v-1.21M54.91 348.00v-1.21M72.33 348.00v-1.21M89.75 348.00v-1.21M107.18 348.00v-1.21M124.60 348.00v-1.21M142.03 348.00v-1.21M159.45 348.00v-1.21M176.88 348.00v-1.21M194.30 348.00v-1.21M21.80 348.00h1.21M21.80 332.93h1.21M21.80 317.87h1.21M21.80 302.80h1.21M21.80 287.73h1.21M21.80 272.67h1.21M21.80 257.60h1.21M21.80 242.53h1.21M21.80 227.47h1.21M21.80 212.40h1.21" stroke="#909090" stroke-width="0.50"/>
<text x="37.48" y="356.00" font-size="5.25" text-anchor="middle" fill="#383838">10</text>
<text x="54.91" y="356.00" font-size="5.25" text-anchor="middle" fill="#383838">20</text>
<text x="72.33" y="356.00" font-size="5.25" text-anchor="middle" fill="#383838">30</text>
<text x="89.75" y="356.00" font-size="5.25" text-anchor="middle" fill="#383838">40</text>
<text x="107.18" y="356.00" font-size="5.25" text-anchor="middle" fill="#383838">50</text>
<text x="124.60" y="356.00" font-size="5.25" text-anchor="middle" fill="#383838">60</text>
<text x="142.03" y="356.00" font-size="5.25" text-anchor="middle" fill="#383838">70</text>
<text x="159.45" y="356.00" font-size="5.25" text-anchor="middle" fill="#383838">80</text>
<text x="176.88" y="356.00" font-size="5.25" text-anchor="middle" fill="#383838">90</text>
<text x="194.30" y="356.00" font-size="5.25" text-anchor="middle" fill="#383838">100</text>
<text x="19.35" y="350.79" font-size="5.25" text-anchor="end" fill="#383838">0.24</text>
<text x="19.35" y="335.72" font-size="5.25" text-anchor="end" fill="#383838">0.26</text>
<text x="19.35" y="320.66" font-size="5.25" text-anchor="end" fill="#383838">0.28</text>
<text x="19.35" y="305.59" font-size="5.25" text-anchor="end" fill="#383838">0.3</text>
<text x="19.35" y="290.52" font-size="5.25" text-anchor="end" fill="#383838">0.32</text>
<text x="19.35" y="275.46" font-size="5.25" text-anchor="end" fill="#383838">0.34</text>
<text x="19.35" y="260.39" font-size="5.25" text-anchor="end" fill="#383838">0.36</text>
<text x="19.35" y="245.32" font-size="5.25" text-anchor="end" fill="#383838">0.38</text>
<text x="19.35" y="230.26" font-size="5.25" text-anchor="end" fill="#383838">0.4</text>
<text x="19.35" y="215.19" font-size="5.25" text-anchor="end" fill="#383838">0.42</text>
<text x="108.05" y="363.50" font-size="5.60" text-anchor="middle" fill="#383838">Iteration</text>
<text transform="translate(6.62 280.20) rotate(-90)" font-size="5.60" text-anchor="middle" fill="#383838">Best Fitness</text>
<text x="108.05" y="210.20" font-size="5.85" text-anchor="middle" font-weight="bold" fill="#000" style="stroke-width:0.12px">hepatitis</text>
<path d="M21.8 274.2 23.5 287.4 25.3 287.4 27.0 287.4 28.8 287.4 30.5 287.4 32.3 287.4 34.0 287.4 35.7 287.4 37.5 287.4 39.2 287.4 41.0 287.4 42.7 287.4 44.5 287.4 46.2 287.4 47.9 287.4 49.7 287.4 51.4 287.4 53.2 287.4 54.9 287.4 56.6 287.4 58.4 287.4 60.1 287.4 61.9 287.4 63.6 287.4 65.4 287.4 67.1 287.4 68.8 287.4 70.6 287.4 72.3 287.4 74.1 287.4 75.8 287.4 77.6 287.4 79.3 287.4 81.0 287.4 82.8 287.4 84.5 287.4 86.3 287.4 88.0 287.4 89.8 287.4 91.5 287.4 93.2 287.4 95.0 287.4 96.7 287.4 98.5 287.4 100.2 287.4 102.0 287.4 103.7 287.4 105.4 287.4 107.2 287.4 108.9 287.4 110.7 287.4 112.4 287.4 114.1 287.4 115.9 287.4 117.6 287.4 119.4 287.4 121.1 287.4 122.9 287.4 124.6 287.4 126.3 287.4 128.1 287.4 129.8 287.4 131.6 287.4 133.3 287.4 135.1 287.4 136.8 287.4 138.5 287.4 140.3 287.4 142.0 287.4 143.8 287.4 145.5 287.4 147.3 287.4 149.0 287.4 150.7 287.4 152.5 287.4 154.2 287.4 156.0 287.4 157.7 287.4 159.5 287.4 161.2 287.4 162.9 287.4 164.7 287.4 166.4 287.4 168.2 287.4 169.9 287.4 171.6 287.4 173.4 287.4 175.1 287.4 176.9 287.4 178.6 287.4 180.4 287.4 182.1 287.4 183.8 287.4 185.6 287.4 187.3 287.4 189.1 287.4 190.8 287.4 192.6 287.4 194.3 287.4" fill="none" stroke="#e0849e" stroke-width="0.50" stroke-dasharray="0.5 0.45"/>
<path d="M21.8 275.2 23.5 280.2 25.3 304.7 27.0 304.7 28.8 304.7 30.5 304.7 32.3 304.7 34.0 304.7 35.7 304.7 37.5 304.7 39.2 304.7 41.0 304.7 42.7 304.7 44.5 304.7 46.2 304.7 47.9 304.7 49.7 304.7 51.4 304.7 53.2 304.7 54.9 304.7 56.6 304.7 58.4 304.7 60.1 304.7 61.9 304.7 63.6 304.7 65.4 304.7 67.1 304.7 68.8 304.7 70.6 304.7 72.3 304.7 74.1 304.7 75.8 304.7 77.6 304.7 79.3 304.7 81.0 304.7 82.8 304.7 84.5 304.7 86.3 304.7 88.0 304.7 89.8 304.7 91.5 304.7 93.2 304.7 95.0 304.7 96.7 304.7 98.5 304.7 100.2 304.7 102.0 304.7 103.7 304.7 105.4 304.7 107.2 304.7 108.9 304.7 110.7 304.7 112.4 304.7 114.1 304.7 115.9 304.7 117.6 304.7 119.4 304.7 121.1 304.7 122.9 304.7 124.6 304.7 126.3 304.7 128.1 304.7 129.8 304.7 131.6 304.7 133.3 304.7 135.1 304.7 136.8 304.7 138.5 304.7 140.3 304.7 142.0 304.7 143.8 304.7 145.5 304.7 147.3 304.7 149.0 304.7 150.7 304.7 152.5 304.7 154.2 304.7 156.0 304.7 157.7 304.7 159.5 304.7 161.2 304.7 162.9 304.7 164.7 304.7 166.4 304.7 168.2 304.7 169.9 304.7 171.6 304.7 173.4 304.7 175.1 304.7 176.9 304.7 178.6 304.7 180.4 304.7 182.1 304.7 183.8 304.7 185.6 304.7 187.3 304.7 189.1 304.7 190.8 304.7 192.6 304.7 194.3 304.7" fill="none" stroke="#e0202e" stroke-width="0.55" marker-start="url(#m2_BPSO)" marker-mid="url(#m2_BPSO)" marker-end="url(#m2_BPSO)"/>
<path d="M21.8 237.3 23.5 285.2 25.3 285.2 27.0 285.2 28.8 285.2 30.5 285.2 32.3 285.2 34.0 285.2 35.7 285.2 37.5 285.2 39.2 285.2 41.0 285.2 42.7 285.2 44.5 285.2 46.2 285.2 47.9 285.2 49.7 285.2 51.4 285.2 53.2 295.3 54.9 314.1 56.6 324.1 58.4 324.1 60.1 324.1 61.9 324.1 63.6 324.1 65.4 324.1 67.1 324.1 68.8 324.1 70.6 324.1 72.3 324.1 74.1 324.1 75.8 324.1 77.6 324.1 79.3 324.1 81.0 324.1 82.8 324.1 84.5 324.1 86.3 324.1 88.0 324.1 89.8 324.1 91.5 324.1 93.2 324.1 95.0 324.1 96.7 324.1 98.5 324.1 100.2 324.1 102.0 324.1 103.7 324.1 105.4 324.1 107.2 324.1 108.9 324.1 110.7 324.1 112.4 324.1 114.1 324.1 115.9 324.1 117.6 324.1 119.4 324.1 121.1 324.1 122.9 324.1 124.6 324.1 126.3 324.1 128.1 324.1 129.8 324.1 131.6 324.1 133.3 324.1 135.1 324.1 136.8 324.1 138.5 324.1 140.3 324.1 142.0 324.1 143.8 324.1 145.5 324.1 147.3 324.1 149.0 324.1 150.7 324.1 152.5 324.1 154.2 324.1 156.0 324.1 157.7 324.1 159.5 324.1 161.2 324.1 162.9 324.1 164.7 324.1 166.4 324.1 168.2 324.1 169.9 324.1 171.6 324.1 173.4 324.1 175.1 324.1 176.9 324.1 178.6 324.1 180.4 324.1 182.1 324.1 183.8 324.1 185.6 324.1 187.3 324.1 189.1 324.1 190.8 324.1 192.6 324.1 194.3 324.1" fill="none" stroke="#5ae25a" stroke-width="0.65" marker-start="url(#m2_BGWO)" marker-mid="url(#m2_BGWO)" marker-end="url(#m2_BGWO)"/>
<path d="M21.8 302.8 23.5 304.8 25.3 304.8 27.0 304.8 28.8 304.8 30.5 304.8 32.3 304.8 34.0 304.8 35.7 304.8 37.5 304.8 39.2 304.8 41.0 304.8 42.7 304.8 44.5 304.8 46.2 317.9 47.9 336.7 49.7 344.2 51.4 344.2 53.2 344.2 54.9 344.2 56.6 344.2 58.4 344.2 60.1 344.2 61.9 344.2 63.6 344.2 65.4 344.2 67.1 344.2 68.8 344.2 70.6 344.2 72.3 344.2 74.1 344.2 75.8 344.2 77.6 344.2 79.3 344.2 81.0 344.2 82.8 344.2 84.5 344.2 86.3 344.2 88.0 344.2 89.8 344.2 91.5 344.2 93.2 344.2 95.0 344.2 96.7 344.2 98.5 344.2 100.2 344.2 102.0 344.2 103.7 344.2 105.4 344.2 107.2 344.2 108.9 344.2 110.7 344.2 112.4 344.2 114.1 344.2 115.9 344.2 117.6 344.2 119.4 344.2 121.1 344.2 122.9 344.2 124.6 344.2 126.3 344.2 128.1 344.2 129.8 344.2 131.6 344.2 133.3 344.2 135.1 344.2 136.8 344.2 138.5 344.2 140.3 344.2 142.0 344.2 143.8 344.2 145.5 344.2 147.3 344.2 149.0 344.2 150.7 344.2 152.5 344.2 154.2 344.2 156.0 344.2 157.7 344.2 159.5 344.2 161.2 344.2 162.9 344.2 164.7 344.2 166.4 344.2 168.2 344.2 169.9 344.2 171.6 344.2 173.4 344.2 175.1 344.2 176.9 344.2 178.6 344.2 180.4 344.2 182.1 344.2 183.8 344.2 185.6 344.2 187.3 344.2 189.1 344.2 190.8 344.2 192.6 344.2 194.3 344.2" fill="none" stroke="#62e862" stroke-width="0.45" stroke-dasharray="0.55 0.55" marker-start="url(#m2_BDA)" marker-mid="url(#m2_BDA)" marker-end="url(#m2_BDA)"/>
<path d="M21.8 256.8 23.5 256.8 25.3 256.8 27.0 256.8 28.8 256.8 30.5 256.8 32.3 256.8 34.0 256.8 35.7 256.8 37.5 256.8 39.2 256.8 41.0 256.8 42.7 256.8 44.5 256.8 46.2 256.8 47.9 256.8 49.7 256.8 51.4 256.8 53.2 256.8 54.9 256.8 56.6 256.8 58.4 256.8 60.1 256.8 61.9 256.8 63.6 256.8 65.4 256.8 67.1 256.8 68.8 256.8 70.6 256.8 72.3 266.9 74.1 266.9 75.8 266.9 77.6 266.9 79.3 266.9 81.0 266.9 82.8 266.9 84.5 266.9 86.3 266.9 88.0 266.9 89.8 266.9 91.5 266.9 93.2 266.9 95.0 266.9 96.7 266.9 98.5 266.9 100.2 266.9 102.0 287.9 103.7 287.9 105.4 287.9 107.2 287.9 108.9 287.9 110.7 287.9 112.4 287.9 114.1 287.9 115.9 287.9 117.6 287.9 119.4 287.9 121.1 287.9 122.9 287.9 124.6 287.9 126.3 287.9 128.1 287.9 129.8 287.9 131.6 287.9 133.3 287.9 135.1 287.9 136.8 287.9 138.5 287.9 140.3 287.9 142.0 287.9 143.8 287.9 145.5 287.9 147.3 287.9 149.0 287.9 150.7 287.9 152.5 287.9 154.2 287.9 156.0 287.9 157.7 287.9 159.5 287.9 161.2 287.9 162.9 287.9 164.7 287.9 166.4 287.9 168.2 287.9 169.9 287.9 171.6 287.9 173.4 287.9 175.1 287.9 176.9 287.9 178.6 287.9 180.4 287.9 182.1 287.9 183.8 287.9 185.6 287.9 187.3 287.9 189.1 317.1 190.8 317.1 192.6 317.1 194.3 317.1" fill="none" stroke="#3a3ad0" stroke-width="0.50" stroke-dasharray="0.45 0.55" marker-start="url(#m2_BCCSA)" marker-mid="url(#m2_BCCSA)" marker-end="url(#m2_BCCSA)"/>
<path d="M21.8 225.2 23.5 238.8 25.3 253.8 27.0 253.8 28.8 253.8 30.5 253.8 32.3 253.8 34.0 253.8 35.7 253.8 37.5 253.8 39.2 253.8 41.0 253.8 42.7 253.8 44.5 254.6 46.2 255.3 47.9 265.1 49.7 274.2 51.4 284.0 53.2 286.1 54.9 286.1 56.6 286.1 58.4 286.1 60.1 286.1 61.9 286.1 63.6 286.1 65.4 286.1 67.1 286.1 68.8 305.4 70.6 305.4 72.3 305.4 74.1 305.4 75.8 305.4 77.6 305.4 79.3 305.4 81.0 305.4 82.8 305.4 84.5 305.4 86.3 305.4 88.0 305.4 89.8 305.4 91.5 305.4 93.2 305.4 95.0 305.4 96.7 305.4 98.5 305.4 100.2 305.4 102.0 305.4 103.7 305.4 105.4 305.4 107.2 305.4 108.9 305.4 110.7 305.4 112.4 305.4 114.1 305.4 115.9 305.4 117.6 305.4 119.4 305.4 121.1 313.0 122.9 313.0 124.6 313.0 126.3 314.1 128.1 333.2 129.8 333.2 131.6 333.2 133.3 333.2 135.1 333.2 136.8 334.1 138.5 334.1 140.3 334.1 142.0 334.1 143.8 334.1 145.5 334.1 147.3 334.1 149.0 334.1 150.7 334.1 152.5 334.1 154.2 334.1 156.0 334.1 157.7 334.1 159.5 334.1 161.2 334.1 162.9 334.1 164.7 334.1 166.4 334.1 168.2 334.1 169.9 334.1 171.6 334.1 173.4 334.1 175.1 334.1 176.9 334.1 178.6 334.1 180.4 334.1 182.1 334.1 183.8 334.1 185.6 334.1 187.3 334.1 189.1 334.1 190.8 334.1 192.6 334.1 194.3 334.1" fill="none" stroke="#4a4adc" stroke-width="0.60" marker-start="url(#m2_BFFAG)" marker-mid="url(#m2_BFFAG)" marker-end="url(#m2_BFFAG)"/>
<path d="M21.8 257.6 23.5 287.4 25.3 287.4 27.0 287.4 28.8 287.4 30.5 287.4 32.3 287.4 34.0 287.4 35.7 287.4 37.5 297.0 39.2 306.9 41.0 306.9 42.7 325.3 44.5 325.3 46.2 325.3 47.9 325.3 49.7 325.3 51.4 325.3 53.2 325.3 54.9 325.3 56.6 325.3 58.4 325.3 60.1 325.3 61.9 325.3 63.6 325.3 65.4 325.3 67.1 325.3 68.8 325.3 70.6 325.3 72.3 325.3 74.1 325.3 75.8 325.3 77.6 325.3 79.3 325.3 81.0 325.3 82.8 325.3 84.5 325.3 86.3 325.3 88.0 325.3 89.8 325.3 91.5 325.3 93.2 325.3 95.0 325.3 96.7 325.3 98.5 325.3 100.2 325.3 102.0 325.3 103.7 325.3 105.4 325.3 107.2 325.3 108.9 325.3 110.7 325.3 112.4 325.3 114.1 325.3 115.9 325.3 117.6 325.3 119.4 325.3 121.1 325.3 122.9 325.3 124.6 325.3 126.3 325.3 128.1 325.3 129.8 325.3 131.6 325.3 133.3 325.3 135.1 325.3 136.8 325.3 138.5 325.3 140.3 325.3 142.0 325.3 143.8 325.3 145.5 325.3 147.3 325.3 149.0 325.3 150.7 325.3 152.5 325.3 154.2 325.3 156.0 325.3 157.7 325.3 159.5 325.3 161.2 325.3 162.9 325.3 164.7 325.3 166.4 325.3 168.2 325.3 169.9 325.3 171.6 325.3 173.4 325.3 175.1 325.3 176.9 325.3 178.6 325.3 180.4 325.3 182.1 325.3 183.8 325.3 185.6 325.3 187.3 325.3 189.1 325.3 190.8 325.3 192.6 325.3 194.3 325.3" fill="none" stroke="#4242d8" stroke-width="0.60" marker-start="url(#m2_BAVOAV1)" marker-mid="url(#m2_BAVOAV1)" marker-end="url(#m2_BAVOAV1)"/>
<path d="M21.8 280.2 23.5 295.3 25.3 306.6 27.0 333.6 28.8 333.6 30.5 333.6 32.3 333.6 34.0 333.6 35.7 333.6 37.5 333.6 39.2 333.6 41.0 333.6 42.7 333.6 44.5 333.6 46.2 333.6 47.9 333.6 49.7 340.5 51.4 344.2 53.2 344.2 54.9 344.2 56.6 344.2 58.4 344.2 60.1 344.2 61.9 344.2 63.6 344.2 65.4 344.2 67.1 344.2 68.8 344.2 70.6 344.2 72.3 344.2 74.1 344.2 75.8 344.2 77.6 344.2 79.3 344.2 81.0 344.2 82.8 344.2 84.5 344.2 86.3 344.2 88.0 344.2 89.8 344.2 91.5 344.2 93.2 344.2 95.0 344.2 96.7 344.2 98.5 344.2 100.2 344.2 102.0 344.2 103.7 344.2 105.4 344.2 107.2 344.2 108.9 344.2 110.7 344.2 112.4 344.2 114.1 344.2 115.9 344.2 117.6 344.2 119.4 344.2 121.1 344.2 122.9 344.2 124.6 344.2 126.3 344.2 128.1 344.2 129.8 344.2 131.6 344.2 133.3 344.2 135.1 344.2 136.8 344.2 138.5 344.2 140.3 344.2 142.0 344.2 143.8 344.2 145.5 344.2 147.3 344.2 149.0 344.2 150.7 344.2 152.5 344.2 154.2 344.2 156.0 344.2 157.7 344.2 159.5 344.2 161.2 344.2 162.9 344.2 164.7 344.2 166.4 344.2 168.2 344.2 169.9 344.2 171.6 344.2 173.4 344.2 175.1 344.2 176.9 344.2 178.6 344.2 180.4 344.2 182.1 344.2 183.8 344.2 185.6 344.2 187.3 344.2 189.1 344.2 190.8 344.2 192.6 344.2 194.3 344.2" fill="none" stroke="#2a2a2a" stroke-width="0.40"/>
<rect x="145.20" y="216.00" width="44.50" height="53.70" fill="#fff" stroke="#a0a0a0" stroke-width="0.60"/>
<path d="M147.01 220.20H162.39" stroke="#e07a88" stroke-width="0.55" stroke-dasharray="0.6 0.8"/>
<text x="164.00" y="221.93" font-size="4.80" fill="#383838" style="stroke-width:0.2px">BBA</text>
<path d="M147.01 226.80H162.39" stroke="#e67482" stroke-width="0.55"/>
<circle cx="154.70" cy="226.80" r="0.97" fill="#e0202e"/>
<text x="164.00" y="228.53" font-size="4.80" fill="#383838" style="stroke-width:0.2px">BPSO</text>
<path d="M147.01 233.40H162.39" stroke="#5ad85a" stroke-width="0.55" stroke-dasharray="0.6 0.8"/>
<path d="M153.80 233.40H155.61M154.70 232.49V234.31" stroke="#5ae25a" stroke-opacity="0.6" stroke-width="0.48"/>
<text x="164.00" y="235.13" font-size="4.80" fill="#383838" style="stroke-width:0.2px">BGWO</text>
<path d="M147.01 240.00H162.39" stroke="#5ad85a" stroke-width="0.55" stroke-dasharray="0.6 0.8"/>
<circle cx="154.70" cy="240.00" r="1.27" fill="#62e862" fill-opacity="0.45" stroke="#62e862" stroke-width="0.72"/>
<text x="164.00" y="241.73" font-size="4.80" fill="#383838" style="stroke-width:0.2px">BDA</text>
<path d="M147.01 246.60H162.39" stroke="#7070dc" stroke-width="0.55" stroke-dasharray="0.6 0.8"/>
<circle cx="154.70" cy="246.60" r="0.60" fill="#3a3ad0" fill-opacity="0.85"/>
<text x="164.00" y="248.33" font-size="4.80" fill="#383838" style="stroke-width:0.2px">BCCSA</text>
<path d="M147.01 253.20H162.39" stroke="#7878e0" stroke-width="0.55"/>
<circle cx="154.70" cy="253.20" r="1.15" fill="none" stroke="#4a4adc" stroke-width="0.72"/>
<text x="164.00" y="254.93" font-size="4.80" fill="#383838" style="stroke-width:0.2px">BFFAG</text>
<path d="M147.01 259.80H162.39" stroke="#7878e0" stroke-width="0.55"/>
<path d="M153.64 258.47L156.03 259.80L153.64 261.13Z" fill="#4242d8" fill-opacity="0.35" stroke="#4242d8" stroke-width="0.66"/>
<text x="164.00" y="261.53" font-size="4.80" fill="#383838" style="stroke-width:0.2px">BAVOA-V1</text>
<path d="M147.01 266.40H162.39" stroke="#707070" stroke-width="0.55"/>
<text x="164.00" y="268.13" font-size="4.80" fill="#383838" style="stroke-width:0.2px">BAVOAH</text>
<path d="M255.20 206.00V336.10H420.30" fill="none" stroke="#b0b0b0" stroke-width="0.77"/>
<path d="M270.21 336.10v-1.15M286.89 336.10v-1.15M303.56 336.10v-1.15M320.24 336.10v-1.15M336.92 336.10v-1.15M353.59 336.10v-1.15M370.27 336.10v-1.15M386.95 336.10v-1.15M403.62 336.10v-1.15M420.30 336.10v-1.15M255.20 336.10h1.15M255.20 317.51h1.15M255.20 298.93h1.15M255.20 280.34h1.15M255.20 261.76h1.15M255.20 243.17h1.15M255.20 224.59h1.15M255.20 206.00h1.15" stroke="#909090" stroke-width="0.48"/>
<text x="270.21" y="343.90" font-size="5.04" text-anchor="middle" fill="#383838">10</text>
<text x="286.89" y="343.90" font-size="5.04" text-anchor="middle" fill="#383838">20</text>
<text x="303.56" y="343.90" font-size="5.04" text-anchor="middle" fill="#383838">30</text>
<text x="320.24" y="343.90" font-size="5.04" text-anchor="middle" fill="#383838">40</text>
<text x="336.92" y="343.90" font-size="5.04" text-anchor="middle" fill="#383838">50</text>
<text x="353.59" y="343.90" font-size="5.04" text-anchor="middle" fill="#383838">60</text>
<text x="370.27" y="343.90" font-size="5.04" text-anchor="middle" fill="#383838">70</text>
<text x="386.95" y="343.90" font-size="5.04" text-anchor="middle" fill="#383838">80</text>
<text x="403.62" y="343.90" font-size="5.04" text-anchor="middle" fill="#383838">90</text>
<text x="420.30" y="343.90" font-size="5.04" text-anchor="middle" fill="#383838">100</text>
<text x="253.40" y="338.81" font-size="5.04" text-anchor="end" fill="#383838">0.05</text>
<text x="253.40" y="320.23" font-size="5.04" text-anchor="end" fill="#383838">0.06</text>
<text x="253.40" y="301.64" font-size="5.04" text-anchor="end" fill="#383838">0.07</text>
<text x="253.40" y="283.06" font-size="5.04" text-anchor="end" fill="#383838">0.08</text>
<text x="253.40" y="264.47" font-size="5.04" text-anchor="end" fill="#383838">0.09</text>
<text x="253.40" y="245.89" font-size="5.04" text-anchor="end" fill="#383838">0.1</text>
<text x="253.40" y="227.30" font-size="5.04" text-anchor="end" fill="#383838">0.11</text>
<text x="253.40" y="208.71" font-size="5.04" text-anchor="end" fill="#383838">0.12</text>
<text x="337.75" y="351.70" font-size="5.40" text-anchor="middle" fill="#383838">Iteration</text>
<text transform="translate(240.54 271.05) rotate(-90)" font-size="5.40" text-anchor="middle" fill="#383838">Best Fitness</text>
<text x="337.75" y="203.80" font-size="5.60" text-anchor="middle" font-weight="bold" fill="#000" style="stroke-width:0.12px">ionosphere</text>
<path d="M255.2 224.6 256.9 236.1 258.5 236.1 260.2 236.1 261.9 236.1 263.5 236.1 265.2 236.1 266.9 236.1 268.5 236.1 270.2 236.1 271.9 236.1 273.5 236.1 275.2 236.1 276.9 236.1 278.5 236.1 280.2 236.1 281.9 236.1 283.6 236.1 285.2 236.1 286.9 236.1 288.6 236.1 290.2 236.1 291.9 236.1 293.6 236.1 295.2 236.1 296.9 236.1 298.6 236.1 300.2 236.1 301.9 236.1 303.6 236.1 305.2 236.1 306.9 236.1 308.6 236.1 310.2 236.1 311.9 236.1 313.6 236.1 315.2 236.1 316.9 236.1 318.6 236.1 320.2 236.1 321.9 236.1 323.6 236.1 325.2 236.1 326.9 236.1 328.6 236.1 330.2 236.1 331.9 236.1 333.6 236.1 335.2 236.1 336.9 236.1 338.6 236.1 340.3 236.1 341.9 236.1 343.6 236.1 345.3 236.1 346.9 236.1 348.6 236.1 350.3 236.1 351.9 236.1 353.6 236.1 355.3 236.1 356.9 236.1 358.6 236.1 360.3 236.1 361.9 236.1 363.6 236.1 365.3 236.1 366.9 236.1 368.6 236.1 370.3 236.1 371.9 236.1 373.6 236.1 375.3 236.1 376.9 236.1 378.6 236.1 380.3 236.1 381.9 236.1 383.6 236.1 385.3 236.1 386.9 236.1 388.6 236.1 390.3 236.1 391.9 236.1 393.6 236.1 395.3 236.1 397.0 236.1 398.6 236.1 400.3 236.1 402.0 236.1 403.6 236.1 405.3 236.1 407.0 236.1 408.6 236.1 410.3 236.1 412.0 236.1 413.6 236.1 415.3 236.1 417.0 236.1 418.6 236.1 420.3 236.1" fill="none" stroke="#e0849e" stroke-width="0.48" stroke-dasharray="0.5 0.45"/>
<path d="M255.2 231.3 256.9 242.2 258.5 255.3 260.2 255.3 261.9 255.3 263.5 255.3 265.2 255.3 266.9 255.3 268.5 255.3 270.2 255.3 271.9 264.7 273.5 264.7 275.2 264.7 276.9 264.7 278.5 264.7 280.2 264.7 281.9 264.7 283.6 264.7 285.2 264.7 286.9 264.7 288.6 266.0 290.2 266.0 291.9 266.0 293.6 266.0 295.2 266.0 296.9 266.0 298.6 266.0 300.2 266.0 301.9 266.0 303.6 266.0 305.2 266.0 306.9 266.0 308.6 266.0 310.2 266.0 311.9 266.0 313.6 275.1 315.2 275.1 316.9 275.1 318.6 275.1 320.2 275.1 321.9 275.1 323.6 275.1 325.2 275.1 326.9 275.1 328.6 275.1 330.2 275.1 331.9 275.1 333.6 275.1 335.2 275.1 336.9 275.1 338.6 275.1 340.3 275.1 341.9 275.1 343.6 275.1 345.3 275.1 346.9 275.1 348.6 275.1 350.3 275.1 351.9 275.1 353.6 275.1 355.3 275.1 356.9 275.1 358.6 275.1 360.3 275.1 361.9 275.1 363.6 275.1 365.3 275.1 366.9 275.1 368.6 275.1 370.3 275.1 371.9 275.1 373.6 275.1 375.3 275.1 376.9 275.1 378.6 275.1 380.3 275.1 381.9 275.1 383.6 275.1 385.3 275.1 386.9 275.1 388.6 275.1 390.3 275.1 391.9 275.1 393.6 275.1 395.3 275.1 397.0 275.1 398.6 275.1 400.3 275.1 402.0 275.1 403.6 275.1 405.3 275.1 407.0 275.1 408.6 275.1 410.3 275.1 412.0 275.1 413.6 275.1 415.3 275.1 417.0 275.1 418.6 275.1 420.3 275.1" fill="none" stroke="#e0202e" stroke-width="0.53" marker-start="url(#m3_BPSO)" marker-mid="url(#m3_BPSO)" marker-end="url(#m3_BPSO)"/>
<path d="M255.2 243.2 256.9 251.7 258.5 251.7 260.2 251.7 261.9 251.7 263.5 251.7 265.2 251.7 266.9 251.7 268.5 251.7 270.2 251.7 271.9 251.7 273.5 251.7 275.2 251.7 276.9 251.7 278.5 251.7 280.2 251.7 281.9 251.7 283.6 251.7 285.2 251.7 286.9 251.7 288.6 251.7 290.2 251.7 291.9 251.7 293.6 251.7 295.2 251.7 296.9 251.7 298.6 251.7 300.2 251.7 301.9 251.7 303.6 251.7 305.2 251.7 306.9 251.7 308.6 251.7 310.2 251.7 311.9 251.7 313.6 251.7 315.2 251.7 316.9 251.7 318.6 251.7 320.2 251.7 321.9 251.7 323.6 251.7 325.2 251.7 326.9 251.7 328.6 251.7 330.2 251.7 331.9 251.7 333.6 251.7 335.2 251.7 336.9 251.7 338.6 251.7 340.3 251.7 341.9 251.7 343.6 251.7 345.3 251.7 346.9 251.7 348.6 251.7 350.3 251.7 351.9 262.3 353.6 262.3 355.3 262.3 356.9 262.3 358.6 262.3 360.3 262.3 361.9 262.3 363.6 262.3 365.3 262.3 366.9 262.3 368.6 262.3 370.3 262.3 371.9 262.3 373.6 262.3 375.3 262.3 376.9 262.3 378.6 262.3 380.3 262.3 381.9 262.3 383.6 262.3 385.3 262.3 386.9 262.3 388.6 262.3 390.3 262.3 391.9 262.3 393.6 262.3 395.3 262.3 397.0 262.3 398.6 262.3 400.3 262.3 402.0 262.3 403.6 262.3 405.3 262.3 407.0 262.3 408.6 262.3 410.3 262.3 412.0 262.3 413.6 262.3 415.3 262.3 417.0 262.3 418.6 262.3 420.3 262.3" fill="none" stroke="#5ae25a" stroke-width="0.62" marker-start="url(#m3_BGWO)" marker-mid="url(#m3_BGWO)" marker-end="url(#m3_BGWO)"/>
<path d="M255.2 274.0 256.9 274.0 258.5 274.0 260.2 274.0 261.9 274.0 263.5 274.0 265.2 274.0 266.9 274.0 268.5 274.0 270.2 274.0 271.9 274.0 273.5 274.0 275.2 274.0 276.9 274.0 278.5 274.0 280.2 274.0 281.9 274.0 283.6 274.0 285.2 274.0 286.9 274.0 288.6 274.0 290.2 274.0 291.9 274.0 293.6 274.0 295.2 274.0 296.9 274.0 298.6 274.0 300.2 274.0 301.9 274.0 303.6 274.0 305.2 274.0 306.9 274.0 308.6 274.0 310.2 274.0 311.9 274.0 313.6 274.0 315.2 274.0 316.9 274.0 318.6 274.0 320.2 274.0 321.9 274.0 323.6 274.0 325.2 274.0 326.9 274.0 328.6 274.0 330.2 274.0 331.9 274.0 333.6 274.0 335.2 274.0 336.9 274.0 338.6 274.0 340.3 274.0 341.9 274.0 343.6 274.0 345.3 274.0 346.9 274.0 348.6 274.0 350.3 274.0 351.9 274.0 353.6 274.0 355.3 274.0 356.9 274.0 358.6 274.0 360.3 274.0 361.9 274.0 363.6 274.0 365.3 274.0 366.9 274.0 368.6 274.0 370.3 274.0 371.9 284.2 373.6 284.2 375.3 284.2 376.9 284.2 378.6 284.2 380.3 284.2 381.9 284.2 383.6 284.2 385.3 284.2 386.9 284.2 388.6 284.2 390.3 295.6 391.9 295.6 393.6 295.6 395.3 295.6 397.0 295.6 398.6 295.6 400.3 306.2 402.0 306.2 403.6 306.2 405.3 306.2 407.0 306.2 408.6 306.2 410.3 306.2 412.0 306.2 413.6 306.2 415.3 306.2 417.0 306.2 418.6 306.2 420.3 306.2" fill="none" stroke="#62e862" stroke-width="0.43" stroke-dasharray="0.55 0.55" marker-start="url(#m3_BDA)" marker-mid="url(#m3_BDA)" marker-end="url(#m3_BDA)"/>
<path d="M255.2 226.4 256.9 231.8 258.5 231.8 260.2 231.8 261.9 231.8 263.5 231.8 265.2 231.8 266.9 231.8 268.5 231.8 270.2 231.8 271.9 231.8 273.5 231.8 275.2 231.8 276.9 231.8 278.5 231.8 280.2 231.8 281.9 231.8 283.6 231.8 285.2 231.8 286.9 231.8 288.6 258.0 290.2 258.0 291.9 258.0 293.6 258.0 295.2 258.0 296.9 258.0 298.6 258.0 300.2 258.0 301.9 258.0 303.6 258.0 305.2 258.0 306.9 258.0 308.6 258.0 310.2 258.0 311.9 258.0 313.6 258.0 315.2 258.0 316.9 258.0 318.6 258.0 320.2 258.0 321.9 258.0 323.6 258.0 325.2 258.0 326.9 258.0 328.6 258.0 330.2 258.0 331.9 258.0 333.6 258.0 335.2 258.0 336.9 258.0 338.6 258.0 340.3 258.0 341.9 258.0 343.6 258.0 345.3 258.0 346.9 258.0 348.6 258.0 350.3 258.0 351.9 258.0 353.6 258.0 355.3 258.0 356.9 258.0 358.6 258.0 360.3 258.0 361.9 258.0 363.6 258.0 365.3 258.0 366.9 258.0 368.6 258.0 370.3 258.0 371.9 258.0 373.6 258.0 375.3 258.0 376.9 258.0 378.6 258.0 380.3 258.0 381.9 258.0 383.6 258.0 385.3 258.0 386.9 258.0 388.6 258.0 390.3 258.0 391.9 258.0 393.6 258.0 395.3 258.0 397.0 258.0 398.6 258.0 400.3 258.0 402.0 258.0 403.6 258.0 405.3 258.0 407.0 258.0 408.6 258.0 410.3 258.0 412.0 258.0 413.6 258.0 415.3 258.0 417.0 258.0 418.6 258.0 420.3 258.0" fill="none" stroke="#3a3ad0" stroke-width="0.48" stroke-dasharray="0.45 0.55" marker-start="url(#m3_BCCSA)" marker-mid="url(#m3_BCCSA)" marker-end="url(#m3_BCCSA)"/>
<path d="M255.2 220.1 256.9 226.1 258.5 238.7 260.2 252.5 261.9 257.7 263.5 257.7 265.2 257.7 266.9 257.7 268.5 257.7 270.2 257.7 271.9 260.3 273.5 260.3 275.2 260.3 276.9 260.3 278.5 260.3 280.2 260.3 281.9 260.3 283.6 260.3 285.2 260.3 286.9 262.3 288.6 262.3 290.2 262.3 291.9 262.3 293.6 262.3 295.2 262.3 296.9 262.3 298.6 262.3 300.2 262.3 301.9 262.3 303.6 262.3 305.2 262.3 306.9 262.3 308.6 262.3 310.2 262.3 311.9 262.3 313.6 283.5 315.2 283.5 316.9 283.5 318.6 283.5 320.2 283.5 321.9 283.5 323.6 284.2 325.2 284.2 326.9 284.2 328.6 284.2 330.2 284.2 331.9 284.2 333.6 284.2 335.2 284.2 336.9 284.2 338.6 284.2 340.3 284.2 341.9 284.2 343.6 284.2 345.3 284.2 346.9 284.2 348.6 284.2 350.3 284.2 351.9 284.2 353.6 306.9 355.3 306.9 356.9 306.9 358.6 306.9 360.3 306.9 361.9 306.9 363.6 306.9 365.3 306.9 366.9 306.9 368.6 306.9 370.3 306.9 371.9 317.3 373.6 317.3 375.3 317.3 376.9 317.3 378.6 317.3 380.3 317.3 381.9 317.3 383.6 317.3 385.3 317.3 386.9 317.3 388.6 317.3 390.3 317.3 391.9 317.3 393.6 317.3 395.3 317.3 397.0 317.3 398.6 317.3 400.3 317.3 402.0 317.3 403.6 317.3 405.3 317.3 407.0 317.3 408.6 317.3 410.3 317.3 412.0 317.3 413.6 317.3 415.3 317.3 417.0 317.3 418.6 317.3 420.3 317.3" fill="none" stroke="#4a4adc" stroke-width="0.58" marker-start="url(#m3_BFFAG)" marker-mid="url(#m3_BFFAG)" marker-end="url(#m3_BFFAG)"/>
<path d="M255.2 278.7 256.9 278.7 258.5 278.7 260.2 278.7 261.9 278.7 263.5 278.7 265.2 278.7 266.9 278.7 268.5 278.7 270.2 301.9 271.9 301.9 273.5 301.9 275.2 301.9 276.9 301.9 278.5 301.9 280.2 301.9 281.9 301.9 283.6 301.9 285.2 301.9 286.9 301.9 288.6 301.9 290.2 301.9 291.9 301.9 293.6 301.9 295.2 301.9 296.9 301.9 298.6 301.9 300.2 301.9 301.9 322.0 303.6 322.0 305.2 322.0 306.9 322.0 308.6 322.0 310.2 322.0 311.9 322.0 313.6 322.0 315.2 322.0 316.9 322.0 318.6 322.0 320.2 322.0 321.9 322.0 323.6 322.0 325.2 322.0 326.9 322.0 328.6 322.0 330.2 322.0 331.9 322.0 333.6 322.0 335.2 322.0 336.9 322.0 338.6 322.0 340.3 322.0 341.9 322.0 343.6 322.0 345.3 322.0 346.9 322.0 348.6 322.0 350.3 322.0 351.9 322.0 353.6 322.0 355.3 322.0 356.9 322.0 358.6 322.0 360.3 322.0 361.9 322.0 363.6 322.0 365.3 322.0 366.9 322.0 368.6 322.0 370.3 322.0 371.9 322.0 373.6 322.0 375.3 322.0 376.9 322.0 378.6 322.0 380.3 322.0 381.9 322.0 383.6 322.0 385.3 322.0 386.9 322.0 388.6 322.0 390.3 322.0 391.9 322.0 393.6 322.0 395.3 322.0 397.0 322.0 398.6 322.0 400.3 322.0 402.0 322.0 403.6 322.0 405.3 322.0 407.0 322.0 408.6 322.0 410.3 322.0 412.0 322.0 413.6 322.0 415.3 322.0 417.0 322.0 418.6 322.0 420.3 322.0" fill="none" stroke="#4242d8" stroke-width="0.58" marker-start="url(#m3_BAVOAV1)" marker-mid="url(#m3_BAVOAV1)" marker-end="url(#m3_BAVOAV1)"/>
<path d="M255.2 252.5 256.9 278.7 258.5 278.7 260.2 278.7 261.9 278.7 263.5 278.7 265.2 278.7 266.9 278.7 268.5 278.7 270.2 295.8 271.9 295.8 273.5 295.8 275.2 295.8 276.9 306.9 278.5 306.9 280.2 306.9 281.9 306.9 283.6 306.9 285.2 306.9 286.9 306.9 288.6 306.9 290.2 306.9 291.9 306.9 293.6 306.9 295.2 306.9 296.9 306.9 298.6 306.9 300.2 306.9 301.9 306.9 303.6 306.9 305.2 306.9 306.9 306.9 308.6 306.9 310.2 306.9 311.9 306.9 313.6 306.9 315.2 306.9 316.9 306.9 318.6 306.9 320.2 306.9 321.9 306.9 323.6 306.9 325.2 306.9 326.9 306.9 328.6 306.9 330.2 306.9 331.9 306.9 333.6 306.9 335.2 306.9 336.9 306.9 338.6 306.9 340.3 306.9 341.9 306.9 343.6 306.9 345.3 306.9 346.9 306.9 348.6 306.9 350.3 306.9 351.9 306.9 353.6 306.9 355.3 306.9 356.9 306.9 358.6 306.9 360.3 306.9 361.9 306.9 363.6 306.9 365.3 306.9 366.9 306.9 368.6 306.9 370.3 306.9 371.9 306.9 373.6 306.9 375.3 306.9 376.9 306.9 378.6 306.9 380.3 306.9 381.9 306.9 383.6 306.9 385.3 306.9 386.9 306.9 388.6 306.9 390.3 306.9 391.9 306.9 393.6 306.9 395.3 306.9 397.0 306.9 398.6 306.9 400.3 306.9 402.0 306.9 403.6 306.9 405.3 306.9 407.0 306.9 408.6 306.9 410.3 306.9 412.0 306.9 413.6 306.9 415.3 306.9 417.0 306.9 418.6 306.9 420.3 306.9" fill="none" stroke="#2a2a2a" stroke-width="0.38"/>
<rect x="374.00" y="209.40" width="42.80" height="51.20" fill="#fff" stroke="#a0a0a0" stroke-width="0.58"/>
<path d="M375.73 214.10H390.66" stroke="#e07a88" stroke-width="0.53" stroke-dasharray="0.6 0.8"/>
<text x="392.20" y="215.77" font-size="4.64" fill="#383838" style="stroke-width:0.2px">BBA</text>
<path d="M375.73 220.36H390.66" stroke="#e67482" stroke-width="0.53"/>
<circle cx="383.20" cy="220.36" r="0.92" fill="#e0202e"/>
<text x="392.20" y="222.03" font-size="4.64" fill="#383838" style="stroke-width:0.2px">BPSO</text>
<path d="M375.73 226.62H390.66" stroke="#5ad85a" stroke-width="0.53" stroke-dasharray="0.6 0.8"/>
<path d="M382.33 226.62H384.06M383.20 225.76V227.48" stroke="#5ae25a" stroke-opacity="0.6" stroke-width="0.46"/>
<text x="392.20" y="228.29" font-size="4.64" fill="#383838" style="stroke-width:0.2px">BGWO</text>
<path d="M375.73 232.88H390.66" stroke="#5ad85a" stroke-width="0.53" stroke-dasharray="0.6 0.8"/>
<circle cx="383.20" cy="232.88" r="1.21" fill="#62e862" fill-opacity="0.45" stroke="#62e862" stroke-width="0.69"/>
<text x="392.20" y="234.55" font-size="4.64" fill="#383838" style="stroke-width:0.2px">BDA</text>
<path d="M375.73 239.14H390.66" stroke="#7070dc" stroke-width="0.53" stroke-dasharray="0.6 0.8"/>
<circle cx="383.20" cy="239.14" r="0.58" fill="#3a3ad0" fill-opacity="0.85"/>
<text x="392.20" y="240.81" font-size="4.64" fill="#383838" style="stroke-width:0.2px">BCCSA</text>
<path d="M375.73 245.40H390.66" stroke="#7878e0" stroke-width="0.53"/>
<circle cx="383.20" cy="245.40" r="1.10" fill="none" stroke="#4a4adc" stroke-width="0.69"/>
<text x="392.20" y="247.07" font-size="4.64" fill="#383838" style="stroke-width:0.2px">BFFAG</text>
<path d="M375.73 251.66H390.66" stroke="#7878e0" stroke-width="0.53"/>
<path d="M382.18 250.39L384.46 251.66L382.18 252.93Z" fill="#4242d8" fill-opacity="0.35" stroke="#4242d8" stroke-width="0.63"/>
<text x="392.20" y="253.33" font-size="4.64" fill="#383838" style="stroke-width:0.2px">BAVOA-V1</text>
<path d="M375.73 257.92H390.66" stroke="#707070" stroke-width="0.53"/>
<text x="392.20" y="259.59" font-size="4.64" fill="#383838" style="stroke-width:0.2px">BAVOAH</text>
<path d="M27.90 403.20V532.70H192.80" fill="none" stroke="#b0b0b0" stroke-width="0.77"/>
<path d="M42.89 532.70v-1.15M59.55 532.70v-1.15M76.20 532.70v-1.15M92.86 532.70v-1.15M109.52 532.70v-1.15M126.17 532.70v-1.15M142.83 532.70v-1.15M159.49 532.70v-1.15M176.14 532.70v-1.15M192.80 532.70v-1.15M27.90 532.70h1.15M27.90 516.51h1.15M27.90 500.33h1.15M27.90 484.14h1.15M27.90 467.95h1.15M27.90 451.76h1.15M27.90 435.57h1.15M27.90 419.39h1.15M27.90 403.20h1.15" stroke="#909090" stroke-width="0.48"/>
<text x="42.89" y="540.20" font-size="5.04" text-anchor="middle" fill="#383838">10</text>
<text x="59.55" y="540.20" font-size="5.04" text-anchor="middle" fill="#383838">20</text>
<text x="76.20" y="540.20" font-size="5.04" text-anchor="middle" fill="#383838">30</text>
<text x="92.86" y="540.20" font-size="5.04" text-anchor="middle" fill="#383838">40</text>
<text x="109.52" y="540.20" font-size="5.04" text-anchor="middle" fill="#383838">50</text>
<text x="126.17" y="540.20" font-size="5.04" text-anchor="middle" fill="#383838">60</text>
<text x="142.83" y="540.20" font-size="5.04" text-anchor="middle" fill="#383838">70</text>
<text x="159.49" y="540.20" font-size="5.04" text-anchor="middle" fill="#383838">80</text>
<text x="176.14" y="540.20" font-size="5.04" text-anchor="middle" fill="#383838">90</text>
<text x="192.80" y="540.20" font-size="5.04" text-anchor="middle" fill="#383838">100</text>
<text x="25.90" y="535.41" font-size="5.04" text-anchor="end" fill="#383838">0.02</text>
<text x="25.90" y="519.23" font-size="5.04" text-anchor="end" fill="#383838">0.03</text>
<text x="25.90" y="503.04" font-size="5.04" text-anchor="end" fill="#383838">0.04</text>
<text x="25.90" y="486.85" font-size="5.04" text-anchor="end" fill="#383838">0.05</text>
<text x="25.90" y="470.66" font-size="5.04" text-anchor="end" fill="#383838">0.06</text>
<text x="25.90" y="454.48" font-size="5.04" text-anchor="end" fill="#383838">0.07</text>
<text x="25.90" y="438.29" font-size="5.04" text-anchor="end" fill="#383838">0.08</text>
<text x="25.90" y="422.10" font-size="5.04" text-anchor="end" fill="#383838">0.09</text>
<text x="25.90" y="405.91" font-size="5.04" text-anchor="end" fill="#383838">0.1</text>
<text x="110.35" y="547.50" font-size="5.60" text-anchor="middle" fill="#383838">Iteration</text>
<text transform="translate(13.82 467.95) rotate(-90)" font-size="5.60" text-anchor="middle" fill="#383838">Best Fitness</text>
<text x="110.35" y="400.70" font-size="5.65" text-anchor="middle" font-weight="bold" fill="#000" style="stroke-width:0.12px">krvskp</text>
<path d="M27.9 435.6 29.6 440.4 31.2 445.3 32.9 450.1 34.6 450.1 36.2 450.1 37.9 450.1 39.6 450.1 41.2 450.1 42.9 450.1 44.6 450.1 46.2 450.1 47.9 450.1 49.6 450.1 51.2 450.1 52.9 450.1 54.6 450.1 56.2 450.1 57.9 450.1 59.5 450.1 61.2 450.1 62.9 450.1 64.5 450.1 66.2 450.1 67.9 450.1 69.5 450.1 71.2 450.1 72.9 450.1 74.5 450.1 76.2 450.1 77.9 450.1 79.5 450.1 81.2 450.1 82.9 450.1 84.5 450.1 86.2 450.1 87.9 450.1 89.5 450.1 91.2 450.1 92.9 450.1 94.5 450.1 96.2 450.1 97.9 450.1 99.5 450.1 101.2 450.1 102.9 450.1 104.5 450.1 106.2 450.1 107.9 450.1 109.5 450.1 111.2 450.1 112.8 450.1 114.5 450.1 116.2 450.1 117.8 450.1 119.5 450.1 121.2 450.1 122.8 450.1 124.5 450.1 126.2 450.1 127.8 450.1 129.5 450.1 131.2 450.1 132.8 450.1 134.5 450.1 136.2 450.1 137.8 450.1 139.5 450.1 141.2 450.1 142.8 450.1 144.5 450.1 146.2 450.1 147.8 450.1 149.5 450.1 151.2 450.1 152.8 450.1 154.5 450.1 156.2 450.1 157.8 450.1 159.5 450.1 161.2 450.1 162.8 450.1 164.5 450.1 166.1 450.1 167.8 450.1 169.5 450.1 171.1 450.1 172.8 450.1 174.5 450.1 176.1 450.1 177.8 450.1 179.5 450.1 181.1 450.1 182.8 450.1 184.5 450.1 186.1 450.1 187.8 450.1 189.5 450.1 191.1 450.1 192.8 450.1" fill="none" stroke="#e0849e" stroke-width="0.48" stroke-dasharray="0.5 0.45"/>
<path d="M27.9 434.4 29.6 446.1 31.2 455.5 32.9 458.2 34.6 460.2 36.2 472.0 37.9 487.4 39.6 495.8 41.2 498.9 42.9 502.3 44.6 504.4 46.2 504.4 47.9 504.4 49.6 504.4 51.2 504.4 52.9 504.4 54.6 504.4 56.2 504.4 57.9 504.4 59.5 504.4 61.2 504.4 62.9 504.4 64.5 504.4 66.2 504.4 67.9 504.4 69.5 504.4 71.2 504.4 72.9 504.4 74.5 504.4 76.2 504.4 77.9 504.4 79.5 504.4 81.2 504.4 82.9 504.4 84.5 504.4 86.2 504.4 87.9 504.4 89.5 504.4 91.2 504.4 92.9 504.4 94.5 504.4 96.2 504.4 97.9 504.4 99.5 504.4 101.2 504.4 102.9 504.4 104.5 504.4 106.2 504.4 107.9 504.4 109.5 506.8 111.2 506.8 112.8 506.8 114.5 506.8 116.2 506.8 117.8 506.8 119.5 506.8 121.2 506.8 122.8 506.8 124.5 506.8 126.2 506.8 127.8 506.8 129.5 506.8 131.2 506.8 132.8 506.8 134.5 506.8 136.2 506.8 137.8 506.8 139.5 506.8 141.2 506.8 142.8 506.8 144.5 506.8 146.2 506.8 147.8 506.8 149.5 506.8 151.2 506.8 152.8 506.8 154.5 506.8 156.2 506.8 157.8 506.8 159.5 506.8 161.2 506.8 162.8 506.8 164.5 506.8 166.1 506.8 167.8 506.8 169.5 506.8 171.1 506.8 172.8 506.8 174.5 506.8 176.1 506.8 177.8 506.8 179.5 506.8 181.1 506.8 182.8 506.8 184.5 506.8 186.1 506.8 187.8 506.8 189.5 506.8 191.1 506.8 192.8 506.8" fill="none" stroke="#e0202e" stroke-width="0.53" marker-start="url(#m4_BPSO)" marker-mid="url(#m4_BPSO)" marker-end="url(#m4_BPSO)"/>
<path d="M27.9 470.9 29.6 480.1 31.2 483.3 32.9 484.9 34.6 485.8 36.2 486.4 37.9 487.1 39.6 487.1 41.2 487.1 42.9 487.1 44.6 487.1 46.2 487.1 47.9 487.1 49.6 487.1 51.2 487.1 52.9 487.1 54.6 487.1 56.2 487.1 57.9 487.1 59.5 487.1 61.2 487.1 62.9 487.1 64.5 487.1 66.2 487.1 67.9 487.1 69.5 487.1 71.2 487.1 72.9 487.1 74.5 487.1 76.2 487.1 77.9 487.1 79.5 487.1 81.2 487.1 82.9 487.1 84.5 487.1 86.2 487.1 87.9 487.1 89.5 487.1 91.2 487.1 92.9 487.1 94.5 487.1 96.2 487.1 97.9 487.1 99.5 487.1 101.2 487.1 102.9 487.1 104.5 487.1 106.2 487.1 107.9 487.1 109.5 487.1 111.2 487.1 112.8 487.1 114.5 487.1 116.2 487.1 117.8 487.1 119.5 487.1 121.2 487.1 122.8 487.1 124.5 487.1 126.2 487.1 127.8 487.1 129.5 487.1 131.2 487.1 132.8 487.1 134.5 487.1 136.2 487.1 137.8 487.1 139.5 487.1 141.2 487.1 142.8 487.1 144.5 487.1 146.2 487.1 147.8 487.1 149.5 487.1 151.2 487.1 152.8 487.1 154.5 487.1 156.2 487.1 157.8 487.1 159.5 487.1 161.2 487.1 162.8 487.1 164.5 487.1 166.1 487.1 167.8 487.1 169.5 487.1 171.1 487.1 172.8 487.1 174.5 487.1 176.1 487.1 177.8 487.1 179.5 487.1 181.1 487.1 182.8 487.1 184.5 487.1 186.1 487.1 187.8 487.1 189.5 487.1 191.1 487.1 192.8 487.1" fill="none" stroke="#5ae25a" stroke-width="0.62" marker-start="url(#m4_BGWO)" marker-mid="url(#m4_BGWO)" marker-end="url(#m4_BGWO)"/>
<path d="M27.9 439.9 29.6 445.3 31.2 462.9 32.9 462.9 34.6 462.9 36.2 462.9 37.9 462.9 39.6 462.9 41.2 462.9 42.9 462.9 44.6 462.9 46.2 462.9 47.9 462.9 49.6 462.9 51.2 467.0 52.9 467.0 54.6 467.0 56.2 467.0 57.9 467.0 59.5 467.0 61.2 467.0 62.9 467.0 64.5 467.0 66.2 467.0 67.9 467.0 69.5 467.0 71.2 467.0 72.9 467.0 74.5 467.0 76.2 467.0 77.9 467.0 79.5 469.1 81.2 469.1 82.9 469.1 84.5 469.1 86.2 469.1 87.9 469.1 89.5 469.1 91.2 469.1 92.9 469.1 94.5 469.1 96.2 469.1 97.9 469.1 99.5 469.1 101.2 469.1 102.9 469.1 104.5 469.1 106.2 469.1 107.9 469.1 109.5 469.6 111.2 472.6 112.8 472.6 114.5 472.6 116.2 472.6 117.8 472.6 119.5 472.6 121.2 472.6 122.8 472.6 124.5 472.6 126.2 472.6 127.8 495.8 129.5 497.2 131.2 497.2 132.8 497.2 134.5 497.2 136.2 497.2 137.8 497.2 139.5 497.2 141.2 497.2 142.8 497.2 144.5 497.2 146.2 497.2 147.8 497.2 149.5 505.8 151.2 505.8 152.8 505.8 154.5 511.7 156.2 516.5 157.8 518.1 159.5 521.4 161.2 526.4 162.8 526.4 164.5 526.4 166.1 526.4 167.8 526.4 169.5 526.4 171.1 526.4 172.8 526.4 174.5 526.4 176.1 526.4 177.8 526.4 179.5 526.4 181.1 526.4 182.8 526.4 184.5 526.4 186.1 526.4 187.8 526.4 189.5 526.4 191.1 526.4 192.8 526.4" fill="none" stroke="#62e862" stroke-width="0.43" stroke-dasharray="0.55 0.55" marker-start="url(#m4_BDA)" marker-mid="url(#m4_BDA)" marker-end="url(#m4_BDA)"/>
<path d="M27.9 415.2 29.6 415.2 31.2 415.2 32.9 415.2 34.6 415.2 36.2 415.2 37.9 415.2 39.6 415.2 41.2 415.2 42.9 415.2 44.6 415.2 46.2 415.2 47.9 415.2 49.6 415.2 51.2 415.2 52.9 415.2 54.6 415.2 56.2 415.2 57.9 415.2 59.5 415.2 61.2 415.2 62.9 415.2 64.5 415.2 66.2 415.2 67.9 415.2 69.5 415.2 71.2 415.2 72.9 415.2 74.5 415.2 76.2 415.2 77.9 415.2 79.5 415.2 81.2 415.2 82.9 415.2 84.5 415.2 86.2 415.2 87.9 415.2 89.5 415.2 91.2 415.2 92.9 415.2 94.5 415.2 96.2 415.2 97.9 415.2 99.5 415.2 101.2 415.2 102.9 415.2 104.5 415.2 106.2 415.2 107.9 415.2 109.5 415.2 111.2 415.2 112.8 415.2 114.5 415.2 116.2 415.2 117.8 415.2 119.5 415.2 121.2 415.2 122.8 415.2 124.5 415.2 126.2 415.2 127.8 415.2 129.5 415.2 131.2 415.2 132.8 415.2 134.5 415.2 136.2 415.2 137.8 415.2 139.5 415.2 141.2 415.2 142.8 415.2 144.5 415.2 146.2 415.2 147.8 415.2 149.5 415.2 151.2 415.2 152.8 415.2 154.5 415.2 156.2 415.2 157.8 415.2 159.5 415.2 161.2 415.2 162.8 415.2 164.5 415.2 166.1 415.2 167.8 415.2 169.5 415.2 171.1 415.2 172.8 415.2 174.5 415.2 176.1 415.2 177.8 415.2 179.5 415.2 181.1 415.2 182.8 415.2 184.5 415.2 186.1 415.2 187.8 415.2 189.5 415.2 191.1 415.2 192.8 415.2" fill="none" stroke="#3a3ad0" stroke-width="0.48" stroke-dasharray="0.45 0.55" marker-start="url(#m4_BCCSA)" marker-mid="url(#m4_BCCSA)" marker-end="url(#m4_BCCSA)"/>
<path d="M27.9 429.1 29.6 429.7 31.2 430.6 32.9 445.8 34.6 446.1 36.2 450.0 37.9 450.0 39.6 450.0 41.2 450.0 42.9 450.0 44.6 450.0 46.2 450.0 47.9 450.0 49.6 450.0 51.2 450.0 52.9 450.0 54.6 450.0 56.2 450.0 57.9 450.0 59.5 450.0 61.2 450.0 62.9 466.3 64.5 487.1 66.2 487.1 67.9 487.1 69.5 487.1 71.2 487.1 72.9 487.1 74.5 487.1 76.2 487.1 77.9 487.1 79.5 487.1 81.2 510.0 82.9 510.0 84.5 510.0 86.2 510.0 87.9 510.0 89.5 510.0 91.2 510.0 92.9 510.0 94.5 510.0 96.2 510.0 97.9 510.0 99.5 510.0 101.2 510.0 102.9 518.0 104.5 518.0 106.2 518.0 107.9 518.0 109.5 518.0 111.2 518.0 112.8 518.0 114.5 518.0 116.2 518.0 117.8 518.0 119.5 518.0 121.2 518.0 122.8 518.0 124.5 518.0 126.2 518.0 127.8 518.0 129.5 518.0 131.2 518.0 132.8 518.0 134.5 518.0 136.2 518.0 137.8 518.0 139.5 518.0 141.2 518.0 142.8 518.0 144.5 518.0 146.2 518.0 147.8 518.0 149.5 518.0 151.2 518.0 152.8 518.0 154.5 518.0 156.2 518.0 157.8 518.0 159.5 518.0 161.2 518.0 162.8 518.0 164.5 518.0 166.1 518.0 167.8 518.0 169.5 518.0 171.1 518.0 172.8 518.0 174.5 518.0 176.1 518.0 177.8 518.0 179.5 518.0 181.1 518.0 182.8 518.0 184.5 518.0 186.1 518.0 187.8 518.0 189.5 518.0 191.1 518.0 192.8 518.0" fill="none" stroke="#4a4adc" stroke-width="0.58" marker-start="url(#m4_BFFAG)" marker-mid="url(#m4_BFFAG)" marker-end="url(#m4_BFFAG)"/>
<path d="M27.9 449.2 29.6 449.8 31.2 459.9 32.9 465.0 34.6 471.2 36.2 476.9 37.9 480.4 39.6 481.2 41.2 481.9 42.9 485.8 44.6 488.2 46.2 492.9 47.9 501.1 49.6 508.3 51.2 508.3 52.9 508.3 54.6 508.3 56.2 508.3 57.9 508.3 59.5 508.3 61.2 508.3 62.9 512.3 64.5 512.3 66.2 512.3 67.9 512.3 69.5 512.3 71.2 512.3 72.9 512.3 74.5 512.3 76.2 512.3 77.9 512.3 79.5 512.3 81.2 512.3 82.9 518.5 84.5 518.5 86.2 518.5 87.9 518.5 89.5 518.5 91.2 518.5 92.9 518.5 94.5 518.5 96.2 518.5 97.9 518.5 99.5 518.5 101.2 519.8 102.9 519.8 104.5 519.8 106.2 519.8 107.9 519.8 109.5 519.8 111.2 519.8 112.8 519.8 114.5 522.7 116.2 522.7 117.8 522.7 119.5 522.7 121.2 522.7 122.8 522.7 124.5 522.7 126.2 522.7 127.8 522.7 129.5 522.7 131.2 522.7 132.8 522.7 134.5 528.0 136.2 528.0 137.8 528.0 139.5 528.0 141.2 528.0 142.8 528.0 144.5 528.0 146.2 529.6 147.8 529.6 149.5 529.6 151.2 529.6 152.8 529.6 154.5 529.6 156.2 529.6 157.8 529.6 159.5 529.6 161.2 529.6 162.8 529.6 164.5 529.6 166.1 529.6 167.8 529.6 169.5 529.6 171.1 529.6 172.8 529.6 174.5 529.6 176.1 529.6 177.8 529.6 179.5 529.6 181.1 529.6 182.8 529.6 184.5 529.6 186.1 529.6 187.8 529.6 189.5 529.6 191.1 529.6 192.8 529.6" fill="none" stroke="#4242d8" stroke-width="0.58" marker-start="url(#m4_BAVOAV1)" marker-mid="url(#m4_BAVOAV1)" marker-end="url(#m4_BAVOAV1)"/>
<path d="M27.9 451.8 29.6 483.3 31.2 489.0 32.9 493.0 34.6 495.1 36.2 495.1 37.9 498.7 39.6 502.3 41.2 502.3 42.9 502.3 44.6 506.8 46.2 513.1 47.9 514.9 49.6 515.9 51.2 519.8 52.9 521.9 54.6 522.7 56.2 523.5 57.9 524.3 59.5 524.3 61.2 525.9 62.9 525.9 64.5 525.9 66.2 525.9 67.9 525.9 69.5 525.9 71.2 525.9 72.9 525.9 74.5 526.9 76.2 527.8 77.9 527.8 79.5 527.8 81.2 527.8 82.9 527.8 84.5 527.8 86.2 527.8 87.9 527.8 89.5 527.8 91.2 527.8 92.9 528.7 94.5 528.7 96.2 528.7 97.9 528.7 99.5 528.7 101.2 528.7 102.9 528.7 104.5 528.7 106.2 528.7 107.9 528.7 109.5 529.5 111.2 529.5 112.8 529.5 114.5 529.5 116.2 529.5 117.8 529.5 119.5 529.5 121.2 529.5 122.8 529.5 124.5 529.5 126.2 529.5 127.8 529.5 129.5 529.5 131.2 529.5 132.8 529.5 134.5 529.5 136.2 529.5 137.8 529.5 139.5 529.5 141.2 529.5 142.8 529.8 144.5 529.8 146.2 529.8 147.8 529.8 149.5 529.8 151.2 529.8 152.8 529.8 154.5 529.8 156.2 529.8 157.8 529.8 159.5 529.8 161.2 529.8 162.8 529.8 164.5 529.8 166.1 529.8 167.8 529.8 169.5 529.8 171.1 529.8 172.8 529.8 174.5 529.8 176.1 529.8 177.8 529.8 179.5 529.8 181.1 529.8 182.8 529.8 184.5 529.8 186.1 529.8 187.8 529.8 189.5 529.8 191.1 529.8 192.8 529.8" fill="none" stroke="#2a2a2a" stroke-width="0.38"/>
<rect x="145.50" y="407.00" width="43.20" height="51.80" fill="#fff" stroke="#a0a0a0" stroke-width="0.58"/>
<path d="M147.23 411.20H162.46" stroke="#e07a88" stroke-width="0.53" stroke-dasharray="0.6 0.8"/>
<text x="164.00" y="412.87" font-size="4.64" fill="#383838" style="stroke-width:0.2px">BBA</text>
<path d="M147.23 417.49H162.46" stroke="#e67482" stroke-width="0.53"/>
<circle cx="154.85" cy="417.49" r="0.92" fill="#e0202e"/>
<text x="164.00" y="419.16" font-size="4.64" fill="#383838" style="stroke-width:0.2px">BPSO</text>
<path d="M147.23 423.78H162.46" stroke="#5ad85a" stroke-width="0.53" stroke-dasharray="0.6 0.8"/>
<path d="M153.98 423.78H155.71M154.85 422.92V424.64" stroke="#5ae25a" stroke-opacity="0.6" stroke-width="0.46"/>
<text x="164.00" y="425.45" font-size="4.64" fill="#383838" style="stroke-width:0.2px">BGWO</text>
<path d="M147.23 430.07H162.46" stroke="#5ad85a" stroke-width="0.53" stroke-dasharray="0.6 0.8"/>
<circle cx="154.85" cy="430.07" r="1.21" fill="#62e862" fill-opacity="0.45" stroke="#62e862" stroke-width="0.69"/>
<text x="164.00" y="431.74" font-size="4.64" fill="#383838" style="stroke-width:0.2px">BDA</text>
<path d="M147.23 436.36H162.46" stroke="#7070dc" stroke-width="0.53" stroke-dasharray="0.6 0.8"/>
<circle cx="154.85" cy="436.36" r="0.58" fill="#3a3ad0" fill-opacity="0.85"/>
<text x="164.00" y="438.03" font-size="4.64" fill="#383838" style="stroke-width:0.2px">BCCSA</text>
<path d="M147.23 442.65H162.46" stroke="#7878e0" stroke-width="0.53"/>
<circle cx="154.85" cy="442.65" r="1.10" fill="none" stroke="#4a4adc" stroke-width="0.69"/>
<text x="164.00" y="444.32" font-size="4.64" fill="#383838" style="stroke-width:0.2px">BFFAG</text>
<path d="M147.23 448.94H162.46" stroke="#7878e0" stroke-width="0.53"/>
<path d="M153.83 447.67L156.11 448.94L153.83 450.21Z" fill="#4242d8" fill-opacity="0.35" stroke="#4242d8" stroke-width="0.63"/>
<text x="164.00" y="450.61" font-size="4.64" fill="#383838" style="stroke-width:0.2px">BAVOA-V1</text>
<path d="M147.23 455.23H162.46" stroke="#707070" stroke-width="0.53"/>
<text x="164.00" y="456.90" font-size="4.64" fill="#383838" style="stroke-width:0.2px">BAVOAH</text>
<path d="M259.20 405.40V529.90H416.30" fill="none" stroke="#b0b0b0" stroke-width="0.73"/>
<path d="M273.48 529.90v-1.10M289.35 529.90v-1.10M305.22 529.90v-1.10M321.09 529.90v-1.10M336.96 529.90v-1.10M352.83 529.90v-1.10M368.69 529.90v-1.10M384.56 529.90v-1.10M400.43 529.90v-1.10M416.30 529.90v-1.10M259.20 529.90h1.10M259.20 516.07h1.10M259.20 502.23h1.10M259.20 488.40h1.10M259.20 474.57h1.10M259.20 460.73h1.10M259.20 446.90h1.10M259.20 433.07h1.10M259.20 419.23h1.10M259.20 405.40h1.10" stroke="#909090" stroke-width="0.46"/>
<text x="273.48" y="536.90" font-size="4.83" text-anchor="middle" fill="#383838">10</text>
<text x="289.35" y="536.90" font-size="4.83" text-anchor="middle" fill="#383838">20</text>
<text x="305.22" y="536.90" font-size="4.83" text-anchor="middle" fill="#383838">30</text>
<text x="321.09" y="536.90" font-size="4.83" text-anchor="middle" fill="#383838">40</text>
<text x="336.96" y="536.90" font-size="4.83" text-anchor="middle" fill="#383838">50</text>
<text x="352.83" y="536.90" font-size="4.83" text-anchor="middle" fill="#383838">60</text>
<text x="368.69" y="536.90" font-size="4.83" text-anchor="middle" fill="#383838">70</text>
<text x="384.56" y="536.90" font-size="4.83" text-anchor="middle" fill="#383838">80</text>
<text x="400.43" y="536.90" font-size="4.83" text-anchor="middle" fill="#383838">90</text>
<text x="416.30" y="536.90" font-size="4.83" text-anchor="middle" fill="#383838">100</text>
<text x="256.60" y="532.54" font-size="4.83" text-anchor="end" fill="#383838">0.05</text>
<text x="256.60" y="518.71" font-size="4.83" text-anchor="end" fill="#383838">0.06</text>
<text x="256.60" y="504.87" font-size="4.83" text-anchor="end" fill="#383838">0.07</text>
<text x="256.60" y="491.04" font-size="4.83" text-anchor="end" fill="#383838">0.08</text>
<text x="256.60" y="477.21" font-size="4.83" text-anchor="end" fill="#383838">0.09</text>
<text x="256.60" y="463.37" font-size="4.83" text-anchor="end" fill="#383838">0.1</text>
<text x="256.60" y="449.54" font-size="4.83" text-anchor="end" fill="#383838">0.11</text>
<text x="256.60" y="435.71" font-size="4.83" text-anchor="end" fill="#383838">0.12</text>
<text x="256.60" y="421.87" font-size="4.83" text-anchor="end" fill="#383838">0.13</text>
<text x="256.60" y="408.04" font-size="4.83" text-anchor="end" fill="#383838">0.14</text>
<text x="337.75" y="544.90" font-size="5.45" text-anchor="middle" fill="#383838">Iteration</text>
<text transform="translate(244.66 467.65) rotate(-90)" font-size="5.45" text-anchor="middle" fill="#383838">Best Fitness</text>
<text x="337.75" y="403.50" font-size="5.45" text-anchor="middle" font-weight="bold" fill="#000" style="stroke-width:0.12px">letterrecognition</text>
<path d="M259.2 419.2 260.8 419.2 262.4 419.2 264.0 419.2 265.5 419.2 267.1 419.2 268.7 419.2 270.3 419.2 271.9 419.2 273.5 419.2 275.1 419.2 276.7 419.2 278.2 419.2 279.8 419.2 281.4 419.2 283.0 419.2 284.6 419.2 286.2 419.2 287.8 419.2 289.4 419.2 290.9 419.2 292.5 419.2 294.1 419.2 295.7 419.2 297.3 419.2 298.9 419.2 300.5 419.2 302.0 419.2 303.6 419.2 305.2 419.2 306.8 419.2 308.4 419.2 310.0 419.2 311.6 419.2 313.2 419.2 314.7 419.2 316.3 419.2 317.9 419.2 319.5 419.2 321.1 419.2 322.7 419.2 324.3 419.2 325.8 419.2 327.4 419.2 329.0 419.2 330.6 419.2 332.2 419.2 333.8 419.2 335.4 419.2 337.0 419.2 338.5 419.2 340.1 419.2 341.7 419.2 343.3 419.2 344.9 419.2 346.5 419.2 348.1 419.2 349.7 419.2 351.2 419.2 352.8 419.2 354.4 419.2 356.0 419.2 357.6 419.2 359.2 419.2 360.8 419.2 362.3 419.2 363.9 419.2 365.5 419.2 367.1 419.2 368.7 419.2 370.3 419.2 371.9 419.2 373.5 419.2 375.0 419.2 376.6 419.2 378.2 419.2 379.8 419.2 381.4 419.2 383.0 419.2 384.6 419.2 386.1 419.2 387.7 419.2 389.3 419.2 390.9 419.2 392.5 419.2 394.1 419.2 395.7 419.2 397.3 419.2 398.8 419.2 400.4 419.2 402.0 419.2 403.6 419.2 405.2 419.2 406.8 419.2 408.4 419.2 410.0 419.2 411.5 419.2 413.1 419.2 414.7 419.2 416.3 419.2" fill="none" stroke="#e0849e" stroke-width="0.46" stroke-dasharray="0.5 0.45"/>
<path d="M259.2 472.2 260.8 484.5 262.4 491.2 264.0 498.1 265.5 503.8 267.1 510.8 268.7 510.8 270.3 510.8 271.9 510.8 273.5 510.8 275.1 510.8 276.7 510.8 278.2 510.8 279.8 510.8 281.4 510.8 283.0 510.8 284.6 510.8 286.2 510.8 287.8 510.8 289.4 510.8 290.9 510.8 292.5 510.8 294.1 510.8 295.7 510.8 297.3 510.8 298.9 510.8 300.5 510.8 302.0 510.8 303.6 510.8 305.2 510.8 306.8 510.8 308.4 510.8 310.0 510.8 311.6 510.8 313.2 510.8 314.7 510.8 316.3 510.8 317.9 510.8 319.5 510.8 321.1 510.8 322.7 510.8 324.3 510.8 325.8 510.8 327.4 510.8 329.0 510.8 330.6 510.8 332.2 510.8 333.8 510.8 335.4 510.8 337.0 510.8 338.5 510.8 340.1 510.8 341.7 510.8 343.3 510.8 344.9 510.8 346.5 510.8 348.1 510.8 349.7 510.8 351.2 510.8 352.8 510.8 354.4 510.8 356.0 510.8 357.6 510.8 359.2 510.8 360.8 510.8 362.3 510.8 363.9 510.8 365.5 510.8 367.1 510.8 368.7 510.8 370.3 510.8 371.9 510.8 373.5 510.8 375.0 510.8 376.6 510.8 378.2 510.8 379.8 510.8 381.4 510.8 383.0 510.8 384.6 510.8 386.1 510.8 387.7 510.8 389.3 510.8 390.9 510.8 392.5 510.8 394.1 510.8 395.7 510.8 397.3 510.8 398.8 510.8 400.4 510.8 402.0 510.8 403.6 510.8 405.2 510.8 406.8 510.8 408.4 510.8 410.0 510.8 411.5 510.8 413.1 510.8 414.7 510.8 416.3 510.8" fill="none" stroke="#e0202e" stroke-width="0.50" marker-start="url(#m5_BPSO)" marker-mid="url(#m5_BPSO)" marker-end="url(#m5_BPSO)"/>
<path d="M259.2 470.4 260.8 488.4 262.4 502.2 264.0 510.8 265.5 510.8 267.1 510.8 268.7 510.8 270.3 510.8 271.9 510.8 273.5 510.8 275.1 510.8 276.7 510.8 278.2 510.8 279.8 510.8 281.4 510.8 283.0 510.8 284.6 510.8 286.2 510.8 287.8 510.8 289.4 510.8 290.9 510.8 292.5 510.8 294.1 510.8 295.7 510.8 297.3 510.8 298.9 510.8 300.5 510.8 302.0 510.8 303.6 510.8 305.2 510.8 306.8 510.8 308.4 510.8 310.0 510.8 311.6 510.8 313.2 510.8 314.7 510.8 316.3 510.8 317.9 510.8 319.5 510.8 321.1 510.8 322.7 510.8 324.3 510.8 325.8 510.8 327.4 510.8 329.0 510.8 330.6 510.8 332.2 510.8 333.8 510.8 335.4 510.8 337.0 510.8 338.5 510.8 340.1 510.8 341.7 510.8 343.3 510.8 344.9 510.8 346.5 510.8 348.1 510.8 349.7 510.8 351.2 510.8 352.8 510.8 354.4 510.8 356.0 510.8 357.6 510.8 359.2 510.8 360.8 510.8 362.3 510.8 363.9 510.8 365.5 510.8 367.1 510.8 368.7 510.8 370.3 510.8 371.9 510.8 373.5 510.8 375.0 510.8 376.6 510.8 378.2 510.8 379.8 510.8 381.4 510.8 383.0 510.8 384.6 510.8 386.1 510.8 387.7 510.8 389.3 510.8 390.9 510.8 392.5 510.8 394.1 510.8 395.7 510.8 397.3 510.8 398.8 510.8 400.4 510.8 402.0 510.8 403.6 510.8 405.2 510.8 406.8 510.8 408.4 510.8 410.0 510.8 411.5 510.8 413.1 510.8 414.7 510.8 416.3 510.8" fill="none" stroke="#5ae25a" stroke-width="0.60" marker-start="url(#m5_BGWO)" marker-mid="url(#m5_BGWO)" marker-end="url(#m5_BGWO)"/>
<path d="M259.2 471.8 260.8 477.3 262.4 482.5 264.0 491.3 265.5 491.3 267.1 491.3 268.7 491.3 270.3 491.3 271.9 491.3 273.5 496.7 275.1 496.7 276.7 496.7 278.2 496.7 279.8 496.7 281.4 496.7 283.0 496.7 284.6 496.7 286.2 496.7 287.8 496.7 289.4 496.7 290.9 496.7 292.5 496.7 294.1 496.7 295.7 496.7 297.3 496.7 298.9 496.7 300.5 496.7 302.0 496.7 303.6 496.7 305.2 496.7 306.8 496.7 308.4 496.7 310.0 496.7 311.6 496.7 313.2 496.7 314.7 496.7 316.3 496.7 317.9 496.7 319.5 496.7 321.1 496.7 322.7 496.7 324.3 496.7 325.8 496.7 327.4 496.7 329.0 496.7 330.6 496.7 332.2 496.7 333.8 496.7 335.4 496.7 337.0 496.7 338.5 496.7 340.1 496.7 341.7 496.7 343.3 496.7 344.9 496.7 346.5 496.7 348.1 496.7 349.7 496.7 351.2 496.7 352.8 496.7 354.4 496.7 356.0 496.7 357.6 496.7 359.2 496.7 360.8 507.4 362.3 507.4 363.9 507.4 365.5 507.4 367.1 507.4 368.7 507.4 370.3 507.4 371.9 507.4 373.5 507.4 375.0 507.4 376.6 510.9 378.2 510.9 379.8 510.9 381.4 510.9 383.0 510.9 384.6 510.9 386.1 510.9 387.7 510.9 389.3 510.9 390.9 510.9 392.5 510.9 394.1 510.9 395.7 510.9 397.3 510.9 398.8 510.9 400.4 510.9 402.0 510.9 403.6 510.9 405.2 510.9 406.8 510.9 408.4 510.9 410.0 510.9 411.5 510.9 413.1 510.9 414.7 510.9 416.3 510.9" fill="none" stroke="#62e862" stroke-width="0.41" stroke-dasharray="0.55 0.55" marker-start="url(#m5_BDA)" marker-mid="url(#m5_BDA)" marker-end="url(#m5_BDA)"/>
<path d="M259.2 474.6 260.8 491.3 262.4 491.3 264.0 491.3 265.5 491.3 267.1 491.3 268.7 491.3 270.3 491.3 271.9 491.3 273.5 491.3 275.1 491.3 276.7 491.3 278.2 491.3 279.8 491.3 281.4 491.3 283.0 491.3 284.6 491.3 286.2 491.3 287.8 491.3 289.4 491.3 290.9 491.3 292.5 491.3 294.1 491.3 295.7 491.3 297.3 491.3 298.9 491.3 300.5 491.3 302.0 491.3 303.6 491.3 305.2 491.3 306.8 491.3 308.4 491.3 310.0 491.3 311.6 491.3 313.2 491.3 314.7 491.3 316.3 491.3 317.9 491.3 319.5 491.3 321.1 491.3 322.7 491.3 324.3 491.3 325.8 491.3 327.4 491.3 329.0 491.3 330.6 491.3 332.2 491.3 333.8 491.3 335.4 491.3 337.0 491.3 338.5 491.3 340.1 491.3 341.7 491.3 343.3 491.3 344.9 491.3 346.5 491.3 348.1 491.3 349.7 491.3 351.2 491.3 352.8 491.3 354.4 491.3 356.0 491.3 357.6 491.3 359.2 491.3 360.8 491.3 362.3 491.3 363.9 491.3 365.5 491.3 367.1 491.3 368.7 491.3 370.3 491.3 371.9 491.3 373.5 491.3 375.0 491.3 376.6 491.3 378.2 491.3 379.8 491.3 381.4 491.3 383.0 491.3 384.6 491.3 386.1 491.3 387.7 491.3 389.3 491.3 390.9 491.3 392.5 491.3 394.1 491.3 395.7 491.3 397.3 491.3 398.8 491.3 400.4 491.3 402.0 491.3 403.6 491.3 405.2 491.3 406.8 491.3 408.4 491.3 410.0 491.3 411.5 491.3 413.1 491.3 414.7 491.3 416.3 491.3" fill="none" stroke="#3a3ad0" stroke-width="0.46" stroke-dasharray="0.45 0.55" marker-start="url(#m5_BCCSA)" marker-mid="url(#m5_BCCSA)" marker-end="url(#m5_BCCSA)"/>
<path d="M259.2 471.8 260.8 481.5 262.4 491.3 264.0 491.3 265.5 491.3 267.1 491.3 268.7 491.3 270.3 491.3 271.9 491.3 273.5 491.3 275.1 491.3 276.7 491.3 278.2 491.3 279.8 491.3 281.4 507.1 283.0 507.1 284.6 507.1 286.2 507.1 287.8 507.1 289.4 507.1 290.9 507.1 292.5 507.1 294.1 507.1 295.7 507.1 297.3 507.1 298.9 507.1 300.5 507.1 302.0 507.1 303.6 507.1 305.2 507.1 306.8 507.1 308.4 507.1 310.0 507.1 311.6 507.1 313.2 507.1 314.7 507.1 316.3 507.1 317.9 507.1 319.5 507.1 321.1 507.1 322.7 507.1 324.3 507.1 325.8 511.6 327.4 511.6 329.0 511.6 330.6 511.6 332.2 511.6 333.8 511.6 335.4 511.6 337.0 511.6 338.5 511.6 340.1 511.6 341.7 511.6 343.3 511.6 344.9 511.6 346.5 511.6 348.1 511.6 349.7 511.6 351.2 511.6 352.8 511.6 354.4 511.6 356.0 511.6 357.6 511.6 359.2 511.6 360.8 511.6 362.3 511.6 363.9 511.6 365.5 511.6 367.1 511.6 368.7 511.6 370.3 511.6 371.9 511.6 373.5 511.6 375.0 511.6 376.6 511.6 378.2 511.6 379.8 511.6 381.4 511.6 383.0 511.6 384.6 511.6 386.1 511.6 387.7 511.6 389.3 511.6 390.9 511.6 392.5 511.6 394.1 511.6 395.7 511.6 397.3 511.6 398.8 511.6 400.4 511.6 402.0 511.6 403.6 511.6 405.2 511.6 406.8 511.6 408.4 511.6 410.0 511.6 411.5 511.6 413.1 511.6 414.7 511.6 416.3 511.6" fill="none" stroke="#4a4adc" stroke-width="0.55" marker-start="url(#m5_BFFAG)" marker-mid="url(#m5_BFFAG)" marker-end="url(#m5_BFFAG)"/>
<path d="M259.2 507.1 260.8 511.6 262.4 511.6 264.0 511.6 265.5 511.6 267.1 511.6 268.7 511.6 270.3 511.6 271.9 511.6 273.5 511.6 275.1 511.6 276.7 511.6 278.2 511.6 279.8 511.6 281.4 511.6 283.0 511.6 284.6 511.6 286.2 511.6 287.8 511.6 289.4 511.6 290.9 511.6 292.5 511.6 294.1 511.6 295.7 511.6 297.3 511.6 298.9 516.1 300.5 516.1 302.0 516.1 303.6 516.1 305.2 516.1 306.8 516.1 308.4 516.1 310.0 516.1 311.6 516.1 313.2 516.1 314.7 516.1 316.3 516.1 317.9 516.1 319.5 516.1 321.1 516.1 322.7 516.1 324.3 516.1 325.8 516.1 327.4 516.1 329.0 516.1 330.6 516.1 332.2 516.1 333.8 516.1 335.4 516.1 337.0 516.1 338.5 516.1 340.1 516.1 341.7 516.1 343.3 516.1 344.9 516.1 346.5 516.1 348.1 516.1 349.7 516.1 351.2 516.1 352.8 516.1 354.4 516.1 356.0 516.1 357.6 516.1 359.2 516.1 360.8 516.1 362.3 516.1 363.9 516.1 365.5 516.1 367.1 516.1 368.7 516.1 370.3 516.1 371.9 516.1 373.5 516.1 375.0 516.1 376.6 516.1 378.2 516.1 379.8 516.1 381.4 516.1 383.0 516.1 384.6 516.1 386.1 516.1 387.7 516.1 389.3 516.1 390.9 516.1 392.5 516.1 394.1 516.1 395.7 516.1 397.3 516.1 398.8 516.1 400.4 516.1 402.0 516.1 403.6 516.1 405.2 516.1 406.8 516.1 408.4 516.1 410.0 516.1 411.5 516.1 413.1 516.1 414.7 516.1 416.3 516.1" fill="none" stroke="#4242d8" stroke-width="0.55" marker-start="url(#m5_BAVOAV1)" marker-mid="url(#m5_BAVOAV1)" marker-end="url(#m5_BAVOAV1)"/>
<path d="M259.2 453.8 260.8 481.5 262.4 491.3 264.0 491.3 265.5 516.1 267.1 516.1 268.7 516.1 270.3 516.1 271.9 516.1 273.5 516.1 275.1 516.1 276.7 516.1 278.2 516.1 279.8 516.1 281.4 516.1 283.0 516.1 284.6 516.1 286.2 516.1 287.8 516.1 289.4 516.1 290.9 516.1 292.5 516.1 294.1 516.1 295.7 516.1 297.3 516.1 298.9 516.1 300.5 516.1 302.0 516.1 303.6 516.1 305.2 516.1 306.8 516.1 308.4 516.1 310.0 516.1 311.6 516.1 313.2 516.1 314.7 516.1 316.3 516.1 317.9 516.1 319.5 516.1 321.1 516.1 322.7 516.1 324.3 516.1 325.8 516.1 327.4 516.1 329.0 516.1 330.6 516.1 332.2 516.1 333.8 516.1 335.4 516.1 337.0 516.1 338.5 516.1 340.1 516.1 341.7 516.1 343.3 516.1 344.9 516.1 346.5 516.1 348.1 516.1 349.7 516.1 351.2 516.1 352.8 516.1 354.4 516.1 356.0 516.1 357.6 516.1 359.2 516.1 360.8 516.1 362.3 516.1 363.9 516.1 365.5 516.1 367.1 516.1 368.7 516.1 370.3 516.1 371.9 516.1 373.5 516.1 375.0 516.1 376.6 516.1 378.2 516.1 379.8 516.1 381.4 516.1 383.0 516.1 384.6 516.1 386.1 516.1 387.7 516.1 389.3 516.1 390.9 516.1 392.5 516.1 394.1 516.1 395.7 516.1 397.3 516.1 398.8 516.1 400.4 516.1 402.0 516.1 403.6 516.1 405.2 516.1 406.8 516.1 408.4 516.1 410.0 516.1 411.5 516.1 413.1 516.1 414.7 516.1 416.3 516.1" fill="none" stroke="#2a2a2a" stroke-width="0.37"/>
<rect x="372.30" y="409.40" width="40.60" height="49.30" fill="#fff" stroke="#a0a0a0" stroke-width="0.55"/>
<path d="M373.95 413.60H387.53" stroke="#e07a88" stroke-width="0.50" stroke-dasharray="0.6 0.8"/>
<text x="389.00" y="415.25" font-size="4.58" fill="#383838" style="stroke-width:0.2px">BBA</text>
<path d="M373.95 419.60H387.53" stroke="#e67482" stroke-width="0.50"/>
<circle cx="380.74" cy="419.60" r="0.88" fill="#e0202e"/>
<text x="389.00" y="421.25" font-size="4.58" fill="#383838" style="stroke-width:0.2px">BPSO</text>
<path d="M373.95 425.60H387.53" stroke="#5ad85a" stroke-width="0.50" stroke-dasharray="0.6 0.8"/>
<path d="M379.92 425.60H381.57M380.74 424.78V426.42" stroke="#5ae25a" stroke-opacity="0.6" stroke-width="0.44"/>
<text x="389.00" y="427.25" font-size="4.58" fill="#383838" style="stroke-width:0.2px">BGWO</text>
<path d="M373.95 431.60H387.53" stroke="#5ad85a" stroke-width="0.50" stroke-dasharray="0.6 0.8"/>
<circle cx="380.74" cy="431.60" r="1.15" fill="#62e862" fill-opacity="0.45" stroke="#62e862" stroke-width="0.66"/>
<text x="389.00" y="433.25" font-size="4.58" fill="#383838" style="stroke-width:0.2px">BDA</text>
<path d="M373.95 437.60H387.53" stroke="#7070dc" stroke-width="0.50" stroke-dasharray="0.6 0.8"/>
<circle cx="380.74" cy="437.60" r="0.55" fill="#3a3ad0" fill-opacity="0.85"/>
<text x="389.00" y="439.25" font-size="4.58" fill="#383838" style="stroke-width:0.2px">BCCSA</text>
<path d="M373.95 443.60H387.53" stroke="#7878e0" stroke-width="0.50"/>
<circle cx="380.74" cy="443.60" r="1.04" fill="none" stroke="#4a4adc" stroke-width="0.66"/>
<text x="389.00" y="445.25" font-size="4.58" fill="#383838" style="stroke-width:0.2px">BFFAG</text>
<path d="M373.95 449.60H387.53" stroke="#7878e0" stroke-width="0.50"/>
<path d="M379.77 448.39L381.95 449.60L379.77 450.81Z" fill="#4242d8" fill-opacity="0.35" stroke="#4242d8" stroke-width="0.60"/>
<text x="389.00" y="451.25" font-size="4.58" fill="#383838" style="stroke-width:0.2px">BAVOA-V1</text>
<path d="M373.95 455.60H387.53" stroke="#707070" stroke-width="0.50"/>
<text x="389.00" y="457.25" font-size="4.58" fill="#383838" style="stroke-width:0.2px">BAVOAH</text>
</svg>
</body></html>
